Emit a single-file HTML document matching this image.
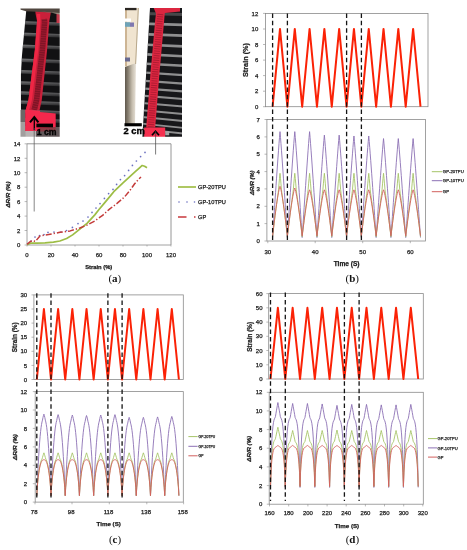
<!DOCTYPE html><html><head><meta charset="utf-8"><title>Figure</title><style>html,body{margin:0;padding:0;background:#fff}svg{display:block}</style></head><body>
<svg width="467" height="550" viewBox="0 0 467 550">
<defs><filter id="bl" color-interpolation-filters="sRGB" x="-5%" y="-5%" width="110%" height="110%"><feGaussianBlur stdDeviation="0.6"/></filter><filter id="bl2" color-interpolation-filters="sRGB"><feGaussianBlur stdDeviation="0.35"/></filter><clipPath id="c1"><rect x="20.5" y="8" width="39.2" height="128.8"/></clipPath><clipPath id="c2"><rect x="125" y="7.8" width="57" height="129"/></clipPath><linearGradient id="band" x1="0" y1="0" x2="0" y2="1"><stop offset="0" stop-color="#8e8e90" stop-opacity="0.85"/><stop offset="1" stop-color="#505052" stop-opacity="0.4"/></linearGradient><linearGradient id="pole" x1="0" y1="0" x2="1" y2="0"><stop offset="0" stop-color="#5e564b"/><stop offset="0.3" stop-color="#8a8274"/><stop offset="0.65" stop-color="#c6beaf"/><stop offset="1" stop-color="#e8e2d8"/></linearGradient><clipPath id="k1"><polygon points="26.3,10 60,10 60,138 20.9,138 20.9,75 22,55"/></clipPath><clipPath id="k2"><polygon points="150,8 183,8 183,138 142.3,138"/></clipPath></defs>
<rect width="467" height="550" fill="#fff"/>
<g clip-path="url(#c1)"><g filter="url(#bl)">
<rect x="18" y="6" width="44" height="133" fill="#fff"/>
<polygon points="26.3,10 60,10 60,138 20.9,138 20.9,75 22,55" fill="#111113"/>
<polygon points="20,21 60,22.6 60,26.1 20,24.5" fill="url(#band)" clip-path="url(#k1)"/>
<polygon points="20,32.5 60,34.1 60,37.6 20,36.0" fill="url(#band)" clip-path="url(#k1)"/>
<polygon points="20,44.5 60,46.1 60,49.6 20,48.0" fill="url(#band)" clip-path="url(#k1)"/>
<polygon points="20,58.5 60,60.1 60,63.6 20,62.0" fill="url(#band)" clip-path="url(#k1)"/>
<polygon points="20,70 60,71.6 60,75.1 20,73.5" fill="url(#band)" clip-path="url(#k1)"/>
<polygon points="20,81.2 60,82.8 60,86.3 20,84.7" fill="url(#band)" clip-path="url(#k1)"/>
<polygon points="20,91.3 60,92.89999999999999 60,96.39999999999999 20,94.8" fill="url(#band)" clip-path="url(#k1)"/>
<polygon points="20,100.5 60,102.1 60,105.6 20,104.0" fill="url(#band)" clip-path="url(#k1)"/>
<polygon points="20,109.5 60,111.1 60,114.6 20,113.0" fill="url(#band)" clip-path="url(#k1)"/>
<polygon points="20,118 60,119.6 60,123.1 20,121.5" fill="url(#band)" clip-path="url(#k1)"/>
<polygon points="20,126 60,127.6 60,131.1 20,129.5" fill="url(#band)" clip-path="url(#k1)"/>
<rect x="20" y="127" width="40" height="11" fill="#62585a"/>
<rect x="20" y="131" width="16" height="7" fill="#b9b3b3"/>
<rect x="20" y="110" width="5.5" height="12" fill="#6a6666"/><rect x="20" y="122" width="5.5" height="16" fill="#a29e9e"/>
<polygon points="35.3,11 50.9,11 50.6,14 49.3,21 47.1,50 41.8,100 39.6,110 25.7,110 28.4,100 34.8,50 37,21 35.6,14" fill="#c9203a"/>
<polyline points="38.5,14 38.8,21 36.6,50 30.2,100 27.5,110" fill="none" stroke="#ee2644" stroke-width="3.4"/>
<polyline points="44.3,19 44.6,22 42.4,50 36.6,100 34.2,110" fill="none" stroke="#6e1222" stroke-width="5.6" opacity="0.8"/>
<polyline points="44.3,19 44.6,22 42.4,50 36.6,100 34.2,110" fill="none" stroke="#d02840" stroke-width="5.6" stroke-dasharray="0.8,1.5" opacity="0.4"/>
<polygon points="25.2,109.7 40,110.5 40,112 55.7,113.4 55.7,127.3 40,128.5 40,131 25.2,131" fill="#f3284c"/>
<polygon points="40,127.8 55.7,127 55.7,131 40,131.5" fill="#8a3a44"/>
<rect x="56.5" y="9" width="4" height="14" fill="#c2384a"/>
<polygon points="20,8.4 60,8.4 60,14.6 52,12.6 26,11.2 20,9.4" fill="#50463f"/>
<polygon points="40,11.4 60,13 60,14.8 52,12.8" fill="#9a8b80"/>
</g>
<g filter="url(#bl2)">
<rect x="36.4" y="123.6" width="16.6" height="3.7" fill="#000"/>
<polyline points="30,122.4 34.3,117.2 38.4,122.4" fill="none" stroke="#000" stroke-width="2"/>
<line x1="34.3" y1="118" x2="34.3" y2="130" stroke="#000" stroke-width="1.3"/>
<text x="46.6" y="134.5" font-size="8.7" text-anchor="middle" font-weight="bold" fill="#000" font-family='"Liberation Sans", sans-serif' stroke="#000" stroke-width="0.35">1 cm</text>
</g>
</g>
<g clip-path="url(#c2)"><g filter="url(#bl)">
<rect x="123" y="6" width="61" height="133" fill="#fff"/>
<polygon points="125,8 139,8 136,64 125,68" fill="#f0e4d0"/>
<rect x="125" y="10" width="2" height="56" fill="#cdb594"/>
<polygon points="125,67 136,63 135,124 125,124" fill="url(#pole)"/>
<line x1="138.3" y1="8" x2="135.6" y2="64" stroke="#b8a88c" stroke-width="1"/>
<rect x="125" y="7.6" width="11.5" height="2.6" fill="#2a2622"/>
<rect x="125" y="22.2" width="5" height="4.6" fill="#6fa3b8"/><rect x="130" y="22.5" width="4" height="4.3" fill="#7f78b0"/>
<rect x="125" y="18.5" width="6" height="3.2" fill="#fff"/>
<rect x="125" y="57.5" width="5" height="4" fill="#6a6a90"/>
<polygon points="150,8 183,8 183,138 142.3,138" fill="#17171a"/>
<polygon points="142,12.0 183,12.9 183,15.9 142,15.0" fill="#a4a4a6" opacity="0.35" clip-path="url(#k2)"/>
<polygon points="142,22.2 183,23.4 183,26.3 142,25.1" fill="#a4a4a6" opacity="0.85" clip-path="url(#k2)"/>
<polygon points="142,32.7 183,34.2 183,37.0 142,35.5" fill="#a4a4a6" opacity="0.85" clip-path="url(#k2)"/>
<polygon points="142,43.2 183,45.0 183,47.7 142,45.8" fill="#a4a4a6" opacity="0.85" clip-path="url(#k2)"/>
<polygon points="142,52.8 183,54.9 183,57.5 142,55.4" fill="#a4a4a6" opacity="0.85" clip-path="url(#k2)"/>
<polygon points="142,62.2 183,64.6 183,67.1 142,64.7" fill="#a4a4a6" opacity="0.85" clip-path="url(#k2)"/>
<polygon points="142,71.2 183,73.9 183,76.2 142,73.6" fill="#a4a4a6" opacity="0.85" clip-path="url(#k2)"/>
<polygon points="142,79.5 183,82.4 183,84.7 142,81.8" fill="#a4a4a6" opacity="0.85" clip-path="url(#k2)"/>
<polygon points="142,87.2 183,90.3 183,92.5 142,89.4" fill="#a4a4a6" opacity="0.85" clip-path="url(#k2)"/>
<polygon points="142,94.6 183,97.9 183,100.1 142,96.7" fill="#a4a4a6" opacity="0.85" clip-path="url(#k2)"/>
<polygon points="142,101.9 183,105.4 183,107.5 142,104.0" fill="#a4a4a6" opacity="0.85" clip-path="url(#k2)"/>
<polygon points="142,109.2 183,113.0 183,114.9 142,111.2" fill="#a4a4a6" opacity="0.85" clip-path="url(#k2)"/>
<polygon points="142,116.0 183,120.0 183,121.9 142,117.9" fill="#a4a4a6" opacity="0.85" clip-path="url(#k2)"/>
<polygon points="142,122.7 183,126.9 183,128.7 142,124.6" fill="#a4a4a6" opacity="0.85" clip-path="url(#k2)"/>
<polygon points="142,128.3 183,132.6 183,134.4 142,130.1" fill="#a4a4a6" opacity="0.85" clip-path="url(#k2)"/>
<polygon points="153.7,8 180,8 180,11.5 164.8,13 164.2,20 160.5,62 159.7,70 155.2,127.5 146.2,127.5 150.7,70 151.5,62 155.2,20 156,13.5" fill="#dc2640"/>
<polyline points="160.3,14 155.3,70 150.8,127" fill="none" stroke="#6a0c1c" stroke-width="6" stroke-dasharray="0.9,1.4" opacity="0.42"/>
<rect x="144.2" y="127.5" width="21" height="11" fill="#f5304f"/>
<rect x="165.2" y="131.3" width="4" height="4" fill="#a5a5a5"/>
</g></g>
<g><g filter="url(#bl2)">
<rect x="124.5" y="123.2" width="17.3" height="3.1" fill="#000"/>
<text x="134.2" y="133.9" font-size="9.3" text-anchor="middle" font-weight="bold" fill="#000" font-family='"Liberation Sans", sans-serif' stroke="#000" stroke-width="0.35">2 cm</text>
<polyline points="152,135.3 155.5,131.3 159,135.3" fill="none" stroke="#000" stroke-width="1.7"/>
</g>
</g>
<polyline points="27,143.8 171,143.8 171,245" fill="none" stroke="#8a8a8a" stroke-width="0.9"/>
<polyline points="27,143.8 27,245 171,245" fill="none" stroke="#8a8a8a" stroke-width="0.8"/>
<text x="20.4" y="247.2" font-size="6" text-anchor="end" font-weight="normal" fill="#1a1a1a" font-family='"Liberation Sans", sans-serif' stroke="#1a1a1a" stroke-width="0.25">0</text>
<line x1="24.6" y1="245.0" x2="27" y2="245.0" stroke="#8a8a8a" stroke-width="0.6"/>
<text x="20.4" y="232.7" font-size="6" text-anchor="end" font-weight="normal" fill="#1a1a1a" font-family='"Liberation Sans", sans-serif' stroke="#1a1a1a" stroke-width="0.25">2</text>
<line x1="24.6" y1="230.5" x2="27" y2="230.5" stroke="#8a8a8a" stroke-width="0.6"/>
<text x="20.4" y="218.3" font-size="6" text-anchor="end" font-weight="normal" fill="#1a1a1a" font-family='"Liberation Sans", sans-serif' stroke="#1a1a1a" stroke-width="0.25">4</text>
<line x1="24.6" y1="216.1" x2="27" y2="216.1" stroke="#8a8a8a" stroke-width="0.6"/>
<text x="20.4" y="203.8" font-size="6" text-anchor="end" font-weight="normal" fill="#1a1a1a" font-family='"Liberation Sans", sans-serif' stroke="#1a1a1a" stroke-width="0.25">6</text>
<line x1="24.6" y1="201.6" x2="27" y2="201.6" stroke="#8a8a8a" stroke-width="0.6"/>
<text x="20.4" y="189.4" font-size="6" text-anchor="end" font-weight="normal" fill="#1a1a1a" font-family='"Liberation Sans", sans-serif' stroke="#1a1a1a" stroke-width="0.25">8</text>
<line x1="24.6" y1="187.2" x2="27" y2="187.2" stroke="#8a8a8a" stroke-width="0.6"/>
<text x="20.4" y="174.9" font-size="6" text-anchor="end" font-weight="normal" fill="#1a1a1a" font-family='"Liberation Sans", sans-serif' stroke="#1a1a1a" stroke-width="0.25">10</text>
<line x1="24.6" y1="172.7" x2="27" y2="172.7" stroke="#8a8a8a" stroke-width="0.6"/>
<text x="20.4" y="160.5" font-size="6" text-anchor="end" font-weight="normal" fill="#1a1a1a" font-family='"Liberation Sans", sans-serif' stroke="#1a1a1a" stroke-width="0.25">12</text>
<line x1="24.6" y1="158.3" x2="27" y2="158.3" stroke="#8a8a8a" stroke-width="0.6"/>
<text x="20.4" y="146.0" font-size="6" text-anchor="end" font-weight="normal" fill="#1a1a1a" font-family='"Liberation Sans", sans-serif' stroke="#1a1a1a" stroke-width="0.25">14</text>
<line x1="24.6" y1="143.8" x2="27" y2="143.8" stroke="#8a8a8a" stroke-width="0.6"/>
<text x="27.0" y="257.1" font-size="6" text-anchor="middle" font-weight="normal" fill="#1a1a1a" font-family='"Liberation Sans", sans-serif' stroke="#1a1a1a" stroke-width="0.25">0</text>
<line x1="27.0" y1="245" x2="27.0" y2="246.5" stroke="#8a8a8a" stroke-width="0.6"/>
<text x="51.0" y="257.1" font-size="6" text-anchor="middle" font-weight="normal" fill="#1a1a1a" font-family='"Liberation Sans", sans-serif' stroke="#1a1a1a" stroke-width="0.25">20</text>
<line x1="51.0" y1="245" x2="51.0" y2="246.5" stroke="#8a8a8a" stroke-width="0.6"/>
<text x="75.0" y="257.1" font-size="6" text-anchor="middle" font-weight="normal" fill="#1a1a1a" font-family='"Liberation Sans", sans-serif' stroke="#1a1a1a" stroke-width="0.25">40</text>
<line x1="75.0" y1="245" x2="75.0" y2="246.5" stroke="#8a8a8a" stroke-width="0.6"/>
<text x="99.0" y="257.1" font-size="6" text-anchor="middle" font-weight="normal" fill="#1a1a1a" font-family='"Liberation Sans", sans-serif' stroke="#1a1a1a" stroke-width="0.25">60</text>
<line x1="99.0" y1="245" x2="99.0" y2="246.5" stroke="#8a8a8a" stroke-width="0.6"/>
<text x="123.0" y="257.1" font-size="6" text-anchor="middle" font-weight="normal" fill="#1a1a1a" font-family='"Liberation Sans", sans-serif' stroke="#1a1a1a" stroke-width="0.25">80</text>
<line x1="123.0" y1="245" x2="123.0" y2="246.5" stroke="#8a8a8a" stroke-width="0.6"/>
<text x="147.0" y="257.1" font-size="6" text-anchor="middle" font-weight="normal" fill="#1a1a1a" font-family='"Liberation Sans", sans-serif' stroke="#1a1a1a" stroke-width="0.25">100</text>
<line x1="147.0" y1="245" x2="147.0" y2="246.5" stroke="#8a8a8a" stroke-width="0.6"/>
<text x="171.0" y="257.1" font-size="6" text-anchor="middle" font-weight="normal" fill="#1a1a1a" font-family='"Liberation Sans", sans-serif' stroke="#1a1a1a" stroke-width="0.25">120</text>
<line x1="171.0" y1="245" x2="171.0" y2="246.5" stroke="#8a8a8a" stroke-width="0.6"/>
<text x="98.7" y="268.6" font-size="5.8" text-anchor="middle" font-weight="bold" fill="#1a1a1a" font-family='"Liberation Sans", sans-serif' stroke="#1a1a1a" stroke-width="0.25">Strain (%)</text>
<text transform="translate(9.9,194.5) rotate(-90)" font-size="6.2" text-anchor="middle" font-weight="bold" fill="#222" font-family='"Liberation Sans", sans-serif' stroke="#222" stroke-width="0.25" font-style="italic">&#916;R/R (%)</text>
<line x1="34.2" y1="128" x2="34.2" y2="211.5" stroke="#555" stroke-width="0.7"/>
<line x1="155.6" y1="131" x2="155.6" y2="154.5" stroke="#444" stroke-width="0.7"/>
<polyline points="27.00,244.64 30.60,243.19 36.60,243.19 45.00,242.83 53.40,242.11 59.88,241.02 66.60,238.49 72.60,234.88 79.80,229.10 87.00,223.31 94.80,214.86 99.00,209.58 105.00,202.35 111.00,195.12 114.60,190.79 123.00,182.83 129.00,177.41 135.00,171.99 139.80,167.65 142.20,165.49 144.60,166.21 147.00,167.65" fill="none" stroke="#9dbd45" stroke-width="1.7" stroke-linejoin="round" />
<circle cx="28.0" cy="243.5" r="0.85" fill="#6a6fc0"/>
<circle cx="31.0" cy="241.0" r="0.85" fill="#6a6fc0"/>
<circle cx="35.0" cy="237.0" r="0.85" fill="#6a6fc0"/>
<circle cx="39.5" cy="235.5" r="0.85" fill="#6a6fc0"/>
<circle cx="44.0" cy="234.5" r="0.85" fill="#6a6fc0"/>
<circle cx="48.0" cy="232.4" r="0.85" fill="#6a6fc0"/>
<circle cx="54.0" cy="232.0" r="0.85" fill="#6a6fc0"/>
<circle cx="61.0" cy="232.0" r="0.85" fill="#6a6fc0"/>
<circle cx="66.5" cy="230.5" r="0.85" fill="#6a6fc0"/>
<circle cx="72.4" cy="227.4" r="0.85" fill="#6a6fc0"/>
<circle cx="78.0" cy="223.6" r="0.85" fill="#6a6fc0"/>
<circle cx="83.0" cy="221.0" r="0.85" fill="#6a6fc0"/>
<circle cx="88.0" cy="217.0" r="0.85" fill="#6a6fc0"/>
<circle cx="92.0" cy="212.4" r="0.85" fill="#6a6fc0"/>
<circle cx="96.0" cy="208.0" r="0.85" fill="#6a6fc0"/>
<circle cx="100.0" cy="203.6" r="0.85" fill="#6a6fc0"/>
<circle cx="104.4" cy="198.4" r="0.85" fill="#6a6fc0"/>
<circle cx="108.6" cy="193.6" r="0.85" fill="#6a6fc0"/>
<circle cx="113.0" cy="189.4" r="0.85" fill="#6a6fc0"/>
<circle cx="116.6" cy="184.4" r="0.85" fill="#6a6fc0"/>
<circle cx="120.4" cy="179.6" r="0.85" fill="#6a6fc0"/>
<circle cx="124.6" cy="175.6" r="0.85" fill="#6a6fc0"/>
<circle cx="128.6" cy="170.4" r="0.85" fill="#6a6fc0"/>
<circle cx="132.4" cy="165.4" r="0.85" fill="#6a6fc0"/>
<circle cx="136.4" cy="161.0" r="0.85" fill="#6a6fc0"/>
<circle cx="140.6" cy="156.6" r="0.85" fill="#6a6fc0"/>
<circle cx="145.0" cy="152.4" r="0.85" fill="#6a6fc0"/>
<polyline points="27.00,244.28 30.60,241.39 33.00,240.66 35.40,241.39 39.96,235.96 48.60,234.52 59.88,232.35 70.20,230.90 79.80,227.94 87.00,225.12 94.80,220.93 102.60,215.36 109.80,208.86 117.00,203.44 124.68,196.79 130.20,190.06 134.64,183.77 138.60,179.22 141.00,177.05" fill="none" stroke="#c43b3a" stroke-width="1.5" stroke-linejoin="round" stroke-dasharray="6,2,1.3,2"/>
<line x1="178" y1="187" x2="196" y2="187" stroke="#9bbb3c" stroke-width="1.6"/>
<text x="198.0" y="189.3" font-size="5.7" text-anchor="start" font-weight="normal" fill="#222" font-family='"Liberation Sans", sans-serif' stroke="#1a1a1a" stroke-width="0.25">GP-20TPU</text>
<circle cx="179" cy="202" r="0.8" fill="#6a6fc0"/>
<circle cx="187" cy="202" r="0.8" fill="#6a6fc0"/>
<circle cx="194.5" cy="202" r="0.8" fill="#6a6fc0"/>
<text x="198.0" y="204.3" font-size="5.7" text-anchor="start" font-weight="normal" fill="#222" font-family='"Liberation Sans", sans-serif' stroke="#1a1a1a" stroke-width="0.25">GP-10TPU</text>
<line x1="178" y1="217" x2="196" y2="217" stroke="#c8383c" stroke-width="1.4" stroke-dasharray="8.5,7.5,1.5,3"/>
<text x="198.0" y="219.3" font-size="5.7" text-anchor="start" font-weight="normal" fill="#222" font-family='"Liberation Sans", sans-serif' stroke="#1a1a1a" stroke-width="0.25">GP</text>
<text x="114.8" y="282.4" font-size="11" text-anchor="middle" fill="#111" font-family='"Liberation Serif", serif'>(<tspan font-weight="bold">a</tspan>)</text>
<text x="352.2" y="282.4" font-size="11" text-anchor="middle" fill="#111" font-family='"Liberation Serif", serif'>(<tspan font-weight="bold">b</tspan>)</text>
<text x="115" y="543" font-size="11" text-anchor="middle" fill="#111" font-family='"Liberation Serif", serif'>(<tspan font-weight="bold">c</tspan>)</text>
<text x="352.4" y="542.7" font-size="11" text-anchor="middle" fill="#111" font-family='"Liberation Serif", serif'>(<tspan font-weight="bold">d</tspan>)</text>
<rect x="265.4" y="13.4" width="162.6" height="93.3" fill="#fff" stroke="#8a8a8a" stroke-width="0.8"/>
<polyline points="272.60,106.70 280.00,28.95 287.39,106.70 294.79,28.95 302.18,106.70 309.58,28.95 316.97,106.70 324.37,28.95 331.76,106.70 339.16,28.95 346.55,106.70 353.95,28.95 361.34,106.70 368.74,28.95 376.13,106.70 383.53,28.95 390.92,106.70 398.31,28.95 405.71,106.70 413.11,28.95 420.50,106.70" fill="none" stroke="#fb2206" stroke-width="2.0" stroke-linejoin="round" stroke-linejoin="miter"/>
<text x="258.3" y="108.8" font-size="6" text-anchor="end" font-weight="normal" fill="#1a1a1a" font-family='"Liberation Sans", sans-serif' stroke="#1a1a1a" stroke-width="0.25">0</text>
<line x1="263.0" y1="106.7" x2="265.4" y2="106.7" stroke="#8a8a8a" stroke-width="0.6"/>
<text x="258.3" y="93.2" font-size="6" text-anchor="end" font-weight="normal" fill="#1a1a1a" font-family='"Liberation Sans", sans-serif' stroke="#1a1a1a" stroke-width="0.25">2</text>
<line x1="263.0" y1="91.2" x2="265.4" y2="91.2" stroke="#8a8a8a" stroke-width="0.6"/>
<text x="258.3" y="77.7" font-size="6" text-anchor="end" font-weight="normal" fill="#1a1a1a" font-family='"Liberation Sans", sans-serif' stroke="#1a1a1a" stroke-width="0.25">4</text>
<line x1="263.0" y1="75.6" x2="265.4" y2="75.6" stroke="#8a8a8a" stroke-width="0.6"/>
<text x="258.3" y="62.2" font-size="6" text-anchor="end" font-weight="normal" fill="#1a1a1a" font-family='"Liberation Sans", sans-serif' stroke="#1a1a1a" stroke-width="0.25">6</text>
<line x1="263.0" y1="60.1" x2="265.4" y2="60.1" stroke="#8a8a8a" stroke-width="0.6"/>
<text x="258.3" y="46.6" font-size="6" text-anchor="end" font-weight="normal" fill="#1a1a1a" font-family='"Liberation Sans", sans-serif' stroke="#1a1a1a" stroke-width="0.25">8</text>
<line x1="263.0" y1="44.5" x2="265.4" y2="44.5" stroke="#8a8a8a" stroke-width="0.6"/>
<text x="258.3" y="31.1" font-size="6" text-anchor="end" font-weight="normal" fill="#1a1a1a" font-family='"Liberation Sans", sans-serif' stroke="#1a1a1a" stroke-width="0.25">10</text>
<line x1="263.0" y1="29.0" x2="265.4" y2="29.0" stroke="#8a8a8a" stroke-width="0.6"/>
<text x="258.3" y="15.5" font-size="6" text-anchor="end" font-weight="normal" fill="#1a1a1a" font-family='"Liberation Sans", sans-serif' stroke="#1a1a1a" stroke-width="0.25">12</text>
<line x1="263.0" y1="13.4" x2="265.4" y2="13.4" stroke="#8a8a8a" stroke-width="0.6"/>
<text transform="translate(248.2,60.0) rotate(-90)" font-size="7.3" text-anchor="middle" font-weight="bold" fill="#222" font-family='"Liberation Sans", sans-serif' stroke="#222" stroke-width="0.25" >Strain (%)</text>
<rect x="266.9" y="119.5" width="158.5" height="121.5" fill="#fff" stroke="#8a8a8a" stroke-width="0.8"/>
<polyline points="272.60,237.53 273.09,229.93 273.59,222.37 274.08,214.85 274.57,207.39 275.06,199.98 275.56,192.63 276.05,185.35 276.54,178.14 277.04,171.01 277.53,163.97 278.02,157.05 278.52,150.27 279.01,143.67 279.50,137.33 280.00,131.65 280.49,137.33 280.98,143.67 281.47,150.27 281.97,157.05 282.46,163.97 282.95,171.01 283.45,178.14 283.94,185.35 284.43,192.63 284.93,199.98 285.42,207.39 285.91,214.85 286.40,222.37 286.90,229.93 287.39,237.53 287.88,229.93 288.38,222.37 288.87,214.85 289.36,207.39 289.86,199.98 290.35,192.63 290.84,185.35 291.33,178.14 291.83,171.01 292.32,163.97 292.81,157.05 293.31,150.27 293.80,143.67 294.29,137.33 294.79,131.65 295.28,137.33 295.77,143.67 296.26,150.27 296.76,157.05 297.25,163.97 297.74,171.01 298.24,178.14 298.73,185.35 299.22,192.63 299.72,199.98 300.21,207.39 300.70,214.85 301.19,222.37 301.69,229.93 302.18,237.53 302.67,229.93 303.17,222.37 303.66,214.85 304.15,207.39 304.65,199.98 305.14,192.63 305.63,185.35 306.12,178.14 306.62,171.01 307.11,163.97 307.60,157.05 308.10,150.27 308.59,143.67 309.08,137.33 309.58,131.65 310.07,137.33 310.56,143.67 311.05,150.27 311.55,157.05 312.04,163.97 312.53,171.01 313.03,178.14 313.52,185.35 314.01,192.63 314.50,199.98 315.00,207.39 315.49,214.85 315.98,222.37 316.48,229.93 316.97,237.53 317.46,230.18 317.96,222.86 318.45,215.60 318.94,208.38 319.44,201.21 319.93,194.11 320.42,187.06 320.91,180.08 321.41,173.19 321.90,166.39 322.39,159.69 322.89,153.13 323.38,146.74 323.87,140.62 324.37,135.12 324.86,140.62 325.35,146.74 325.84,153.13 326.34,159.69 326.83,166.39 327.32,173.19 327.82,180.08 328.31,187.06 328.80,194.11 329.30,201.21 329.79,208.38 330.28,215.60 330.77,222.86 331.27,230.18 331.76,237.53 332.25,230.18 332.75,222.86 333.24,215.60 333.73,208.38 334.23,201.21 334.72,194.11 335.21,187.06 335.70,180.08 336.20,173.19 336.69,166.39 337.18,159.69 337.68,153.13 338.17,146.74 338.66,140.62 339.16,135.12 339.65,140.62 340.14,146.74 340.63,153.13 341.13,159.69 341.62,166.39 342.11,173.19 342.61,180.08 343.10,187.06 343.59,194.11 344.09,201.21 344.58,208.38 345.07,215.60 345.56,222.86 346.06,230.18 346.55,237.53 347.04,230.24 347.54,222.99 348.03,215.78 348.52,208.63 349.02,201.52 349.51,194.47 350.00,187.49 350.49,180.57 350.99,173.73 351.48,166.99 351.97,160.35 352.47,153.84 352.96,147.51 353.45,141.44 353.95,135.99 354.44,141.44 354.93,147.51 355.42,153.84 355.92,160.35 356.41,166.99 356.90,173.73 357.40,180.57 357.89,187.49 358.38,194.47 358.88,201.52 359.37,208.63 359.86,215.78 360.35,222.99 360.85,230.24 361.34,237.53 361.83,230.24 362.33,222.99 362.82,215.78 363.31,208.63 363.81,201.52 364.30,194.47 364.79,187.49 365.28,180.57 365.78,173.73 366.27,166.99 366.76,160.35 367.26,153.84 367.75,147.51 368.24,141.44 368.74,135.99 369.23,141.44 369.72,147.51 370.21,153.84 370.71,160.35 371.20,166.99 371.69,173.73 372.19,180.57 372.68,187.49 373.17,194.47 373.67,201.52 374.16,208.63 374.65,215.78 375.14,222.99 375.64,230.24 376.13,237.53 376.62,230.42 377.12,223.36 377.61,216.34 378.10,209.37 378.60,202.44 379.09,195.58 379.58,188.77 380.07,182.03 380.57,175.37 381.06,168.80 381.55,162.33 382.05,155.99 382.54,149.82 383.03,143.90 383.53,138.59 384.02,143.90 384.51,149.82 385.00,155.99 385.50,162.33 385.99,168.80 386.48,175.37 386.98,182.03 387.47,188.77 387.96,195.58 388.46,202.44 388.95,209.37 389.44,216.34 389.93,223.36 390.43,230.42 390.92,237.53 391.41,230.42 391.91,223.36 392.40,216.34 392.89,209.37 393.38,202.44 393.88,195.58 394.37,188.77 394.86,182.03 395.36,175.37 395.85,168.80 396.34,162.33 396.84,155.99 397.33,149.82 397.82,143.90 398.31,138.59 398.81,143.90 399.30,149.82 399.79,155.99 400.29,162.33 400.78,168.80 401.27,175.37 401.77,182.03 402.26,188.77 402.75,195.58 403.25,202.44 403.74,209.37 404.23,216.34 404.72,223.36 405.22,230.42 405.71,237.53 406.20,230.42 406.70,223.36 407.19,216.34 407.68,209.37 408.18,202.44 408.67,195.58 409.16,188.77 409.65,182.03 410.15,175.37 410.64,168.80 411.13,162.33 411.63,155.99 412.12,149.82 412.61,143.90 413.11,138.59 413.60,143.90 414.09,149.82 414.58,155.99 415.08,162.33 415.57,168.80 416.06,175.37 416.56,182.03 417.05,188.77 417.54,195.58 418.04,202.44 418.53,209.37 419.02,216.34 419.51,223.36 420.01,230.42 420.50,237.53" fill="none" stroke="#8c70b4" stroke-width="0.9" stroke-linejoin="round" />
<polyline points="272.60,236.66 273.09,232.38 273.59,228.16 274.08,224.01 274.57,219.93 275.06,215.91 275.56,211.98 276.05,208.14 276.54,204.39 277.04,200.74 277.53,197.22 278.02,193.83 278.52,189.75 279.01,183.87 279.50,178.28 280.00,173.31 280.49,178.28 280.98,183.87 281.47,189.75 281.97,193.83 282.46,197.22 282.95,200.74 283.45,204.39 283.94,208.14 284.43,211.98 284.93,215.91 285.42,219.93 285.91,224.01 286.40,228.16 286.90,232.38 287.39,236.66 287.88,232.38 288.38,228.16 288.87,224.01 289.36,219.93 289.86,215.91 290.35,211.98 290.84,208.14 291.33,204.39 291.83,200.74 292.32,197.22 292.81,193.83 293.31,189.75 293.80,183.87 294.29,178.28 294.79,173.31 295.28,178.28 295.77,183.87 296.26,189.75 296.76,193.83 297.25,197.22 297.74,200.74 298.24,204.39 298.73,208.14 299.22,211.98 299.72,215.91 300.21,219.93 300.70,224.01 301.19,228.16 301.69,232.38 302.18,236.66 302.67,232.38 303.17,228.16 303.66,224.01 304.15,219.93 304.65,215.91 305.14,211.98 305.63,208.14 306.12,204.39 306.62,200.74 307.11,197.22 307.60,193.83 308.10,189.75 308.59,183.87 309.08,178.28 309.58,173.31 310.07,178.28 310.56,183.87 311.05,189.75 311.55,193.83 312.04,197.22 312.53,200.74 313.03,204.39 313.52,208.14 314.01,211.98 314.50,215.91 315.00,219.93 315.49,224.01 315.98,228.16 316.48,232.38 316.97,236.66 317.46,232.38 317.96,228.16 318.45,224.01 318.94,219.93 319.44,215.91 319.93,211.98 320.42,208.14 320.91,204.39 321.41,200.74 321.90,197.22 322.39,193.83 322.89,189.75 323.38,183.87 323.87,178.28 324.37,173.31 324.86,178.28 325.35,183.87 325.84,189.75 326.34,193.83 326.83,197.22 327.32,200.74 327.82,204.39 328.31,208.14 328.80,211.98 329.30,215.91 329.79,219.93 330.28,224.01 330.77,228.16 331.27,232.38 331.76,236.66 332.25,232.38 332.75,228.16 333.24,224.01 333.73,219.93 334.23,215.91 334.72,211.98 335.21,208.14 335.70,204.39 336.20,200.74 336.69,197.22 337.18,193.83 337.68,189.75 338.17,183.87 338.66,178.28 339.16,173.31 339.65,178.28 340.14,183.87 340.63,189.75 341.13,193.83 341.62,197.22 342.11,200.74 342.61,204.39 343.10,208.14 343.59,211.98 344.09,215.91 344.58,219.93 345.07,224.01 345.56,228.16 346.06,232.38 346.55,236.66 347.04,232.38 347.54,228.16 348.03,224.01 348.52,219.93 349.02,215.91 349.51,211.98 350.00,208.14 350.49,204.39 350.99,200.74 351.48,197.22 351.97,193.83 352.47,189.75 352.96,183.87 353.45,178.28 353.95,173.31 354.44,178.28 354.93,183.87 355.42,189.75 355.92,193.83 356.41,197.22 356.90,200.74 357.40,204.39 357.89,208.14 358.38,211.98 358.88,215.91 359.37,219.93 359.86,224.01 360.35,228.16 360.85,232.38 361.34,236.66 361.83,232.38 362.33,228.16 362.82,224.01 363.31,219.93 363.81,215.91 364.30,211.98 364.79,208.14 365.28,204.39 365.78,200.74 366.27,197.22 366.76,193.83 367.26,189.75 367.75,183.87 368.24,178.28 368.74,173.31 369.23,178.28 369.72,183.87 370.21,189.75 370.71,193.83 371.20,197.22 371.69,200.74 372.19,204.39 372.68,208.14 373.17,211.98 373.67,215.91 374.16,219.93 374.65,224.01 375.14,228.16 375.64,232.38 376.13,236.66 376.62,232.38 377.12,228.16 377.61,224.01 378.10,219.93 378.60,215.91 379.09,211.98 379.58,208.14 380.07,204.39 380.57,200.74 381.06,197.22 381.55,193.83 382.05,189.75 382.54,183.87 383.03,178.28 383.53,173.31 384.02,178.28 384.51,183.87 385.00,189.75 385.50,193.83 385.99,197.22 386.48,200.74 386.98,204.39 387.47,208.14 387.96,211.98 388.46,215.91 388.95,219.93 389.44,224.01 389.93,228.16 390.43,232.38 390.92,236.66 391.41,232.38 391.91,228.16 392.40,224.01 392.89,219.93 393.38,215.91 393.88,211.98 394.37,208.14 394.86,204.39 395.36,200.74 395.85,197.22 396.34,193.83 396.84,189.75 397.33,183.87 397.82,178.28 398.31,173.31 398.81,178.28 399.30,183.87 399.79,189.75 400.29,193.83 400.78,197.22 401.27,200.74 401.77,204.39 402.26,208.14 402.75,211.98 403.25,215.91 403.74,219.93 404.23,224.01 404.72,228.16 405.22,232.38 405.71,236.66 406.20,232.38 406.70,228.16 407.19,224.01 407.68,219.93 408.18,215.91 408.67,211.98 409.16,208.14 409.65,204.39 410.15,200.74 410.64,197.22 411.13,193.83 411.63,189.75 412.12,183.87 412.61,178.28 413.11,173.31 413.60,178.28 414.09,183.87 414.58,189.75 415.08,193.83 415.57,197.22 416.06,200.74 416.56,204.39 417.05,208.14 417.54,211.98 418.04,215.91 418.53,219.93 419.02,224.01 419.51,228.16 420.01,232.38 420.50,236.66" fill="none" stroke="#a6c468" stroke-width="0.9" stroke-linejoin="round" />
<polyline points="272.60,235.79 273.09,231.55 273.59,227.40 274.08,223.34 274.57,219.38 275.06,215.53 275.56,211.79 276.05,208.17 276.54,204.69 277.04,201.36 277.53,198.18 278.02,195.20 278.52,192.43 279.01,189.93 279.50,187.79 280.00,186.32 280.49,187.79 280.98,189.93 281.47,192.43 281.97,195.20 282.46,198.18 282.95,201.36 283.45,204.69 283.94,208.17 284.43,211.79 284.93,215.53 285.42,219.38 285.91,223.34 286.40,227.40 286.90,231.55 287.39,235.79 287.88,231.70 288.38,227.69 288.87,223.77 289.36,219.95 289.86,216.24 290.35,212.63 290.84,209.14 291.33,205.78 291.83,202.56 292.32,199.50 292.81,196.62 293.31,193.95 293.80,191.54 294.29,189.47 294.79,188.06 295.28,189.47 295.77,191.54 296.26,193.95 296.76,196.62 297.25,199.50 297.74,202.56 298.24,205.78 298.73,209.14 299.22,212.63 299.72,216.24 300.21,219.95 300.70,223.77 301.19,227.69 301.69,231.70 302.18,235.79 302.67,231.85 303.17,227.98 303.66,224.21 304.15,220.53 304.65,216.95 305.14,213.47 305.63,210.11 306.12,206.87 306.62,203.77 307.11,200.82 307.60,198.05 308.10,195.47 308.59,193.15 309.08,191.16 309.58,189.80 310.07,191.16 310.56,193.15 311.05,195.47 311.55,198.05 312.04,200.82 312.53,203.77 313.03,206.87 313.52,210.11 314.01,213.47 314.50,216.95 315.00,220.53 315.49,224.21 315.98,227.98 316.48,231.85 316.97,235.79 317.46,231.85 317.96,227.98 318.45,224.21 318.94,220.53 319.44,216.95 319.93,213.47 320.42,210.11 320.91,206.87 321.41,203.77 321.90,200.82 322.39,198.05 322.89,195.47 323.38,193.15 323.87,191.16 324.37,189.80 324.86,191.16 325.35,193.15 325.84,195.47 326.34,198.05 326.83,200.82 327.32,203.77 327.82,206.87 328.31,210.11 328.80,213.47 329.30,216.95 329.79,220.53 330.28,224.21 330.77,227.98 331.27,231.85 331.76,235.79 332.25,231.85 332.75,227.98 333.24,224.21 333.73,220.53 334.23,216.95 334.72,213.47 335.21,210.11 335.70,206.87 336.20,203.77 336.69,200.82 337.18,198.05 337.68,195.47 338.17,193.15 338.66,191.16 339.16,189.80 339.65,191.16 340.14,193.15 340.63,195.47 341.13,198.05 341.62,200.82 342.11,203.77 342.61,206.87 343.10,210.11 343.59,213.47 344.09,216.95 344.58,220.53 345.07,224.21 345.56,227.98 346.06,231.85 346.55,235.79 347.04,231.85 347.54,227.98 348.03,224.21 348.52,220.53 349.02,216.95 349.51,213.47 350.00,210.11 350.49,206.87 350.99,203.77 351.48,200.82 351.97,198.05 352.47,195.47 352.96,193.15 353.45,191.16 353.95,189.80 354.44,191.16 354.93,193.15 355.42,195.47 355.92,198.05 356.41,200.82 356.90,203.77 357.40,206.87 357.89,210.11 358.38,213.47 358.88,216.95 359.37,220.53 359.86,224.21 360.35,227.98 360.85,231.85 361.34,235.79 361.83,231.85 362.33,227.98 362.82,224.21 363.31,220.53 363.81,216.95 364.30,213.47 364.79,210.11 365.28,206.87 365.78,203.77 366.27,200.82 366.76,198.05 367.26,195.47 367.75,193.15 368.24,191.16 368.74,189.80 369.23,191.16 369.72,193.15 370.21,195.47 370.71,198.05 371.20,200.82 371.69,203.77 372.19,206.87 372.68,210.11 373.17,213.47 373.67,216.95 374.16,220.53 374.65,224.21 375.14,227.98 375.64,231.85 376.13,235.79 376.62,231.85 377.12,227.98 377.61,224.21 378.10,220.53 378.60,216.95 379.09,213.47 379.58,210.11 380.07,206.87 380.57,203.77 381.06,200.82 381.55,198.05 382.05,195.47 382.54,193.15 383.03,191.16 383.53,189.80 384.02,191.16 384.51,193.15 385.00,195.47 385.50,198.05 385.99,200.82 386.48,203.77 386.98,206.87 387.47,210.11 387.96,213.47 388.46,216.95 388.95,220.53 389.44,224.21 389.93,227.98 390.43,231.85 390.92,235.79 391.41,231.85 391.91,227.98 392.40,224.21 392.89,220.53 393.38,216.95 393.88,213.47 394.37,210.11 394.86,206.87 395.36,203.77 395.85,200.82 396.34,198.05 396.84,195.47 397.33,193.15 397.82,191.16 398.31,189.80 398.81,191.16 399.30,193.15 399.79,195.47 400.29,198.05 400.78,200.82 401.27,203.77 401.77,206.87 402.26,210.11 402.75,213.47 403.25,216.95 403.74,220.53 404.23,224.21 404.72,227.98 405.22,231.85 405.71,235.79 406.20,231.85 406.70,227.98 407.19,224.21 407.68,220.53 408.18,216.95 408.67,213.47 409.16,210.11 409.65,206.87 410.15,203.77 410.64,200.82 411.13,198.05 411.63,195.47 412.12,193.15 412.61,191.16 413.11,189.80 413.60,191.16 414.09,193.15 414.58,195.47 415.08,198.05 415.57,200.82 416.06,203.77 416.56,206.87 417.05,210.11 417.54,213.47 418.04,216.95 418.53,220.53 419.02,224.21 419.51,227.98 420.01,231.85 420.50,235.79" fill="none" stroke="#d2605e" stroke-width="0.9" stroke-linejoin="round" />
<text x="259.9" y="243.1" font-size="6" text-anchor="end" font-weight="normal" fill="#1a1a1a" font-family='"Liberation Sans", sans-serif' stroke="#1a1a1a" stroke-width="0.25">0</text>
<line x1="264.5" y1="241.0" x2="266.9" y2="241.0" stroke="#8a8a8a" stroke-width="0.6"/>
<text x="259.9" y="225.7" font-size="6" text-anchor="end" font-weight="normal" fill="#1a1a1a" font-family='"Liberation Sans", sans-serif' stroke="#1a1a1a" stroke-width="0.25">1</text>
<line x1="264.5" y1="223.6" x2="266.9" y2="223.6" stroke="#8a8a8a" stroke-width="0.6"/>
<text x="259.9" y="208.4" font-size="6" text-anchor="end" font-weight="normal" fill="#1a1a1a" font-family='"Liberation Sans", sans-serif' stroke="#1a1a1a" stroke-width="0.25">2</text>
<line x1="264.5" y1="206.3" x2="266.9" y2="206.3" stroke="#8a8a8a" stroke-width="0.6"/>
<text x="259.9" y="191.0" font-size="6" text-anchor="end" font-weight="normal" fill="#1a1a1a" font-family='"Liberation Sans", sans-serif' stroke="#1a1a1a" stroke-width="0.25">3</text>
<line x1="264.5" y1="188.9" x2="266.9" y2="188.9" stroke="#8a8a8a" stroke-width="0.6"/>
<text x="259.9" y="173.7" font-size="6" text-anchor="end" font-weight="normal" fill="#1a1a1a" font-family='"Liberation Sans", sans-serif' stroke="#1a1a1a" stroke-width="0.25">4</text>
<line x1="264.5" y1="171.6" x2="266.9" y2="171.6" stroke="#8a8a8a" stroke-width="0.6"/>
<text x="259.9" y="156.3" font-size="6" text-anchor="end" font-weight="normal" fill="#1a1a1a" font-family='"Liberation Sans", sans-serif' stroke="#1a1a1a" stroke-width="0.25">5</text>
<line x1="264.5" y1="154.2" x2="266.9" y2="154.2" stroke="#8a8a8a" stroke-width="0.6"/>
<text x="259.9" y="139.0" font-size="6" text-anchor="end" font-weight="normal" fill="#1a1a1a" font-family='"Liberation Sans", sans-serif' stroke="#1a1a1a" stroke-width="0.25">6</text>
<line x1="264.5" y1="136.9" x2="266.9" y2="136.9" stroke="#8a8a8a" stroke-width="0.6"/>
<text x="259.9" y="121.6" font-size="6" text-anchor="end" font-weight="normal" fill="#1a1a1a" font-family='"Liberation Sans", sans-serif' stroke="#1a1a1a" stroke-width="0.25">7</text>
<line x1="264.5" y1="119.5" x2="266.9" y2="119.5" stroke="#8a8a8a" stroke-width="0.6"/>
<text transform="translate(254.2,182.7) rotate(-90)" font-size="5.8" text-anchor="middle" font-weight="bold" fill="#222" font-family='"Liberation Sans", sans-serif' stroke="#222" stroke-width="0.25" font-style="italic">&#916;R/R (%)</text>
<text x="267.8" y="254.1" font-size="6" text-anchor="middle" font-weight="normal" fill="#1a1a1a" font-family='"Liberation Sans", sans-serif' stroke="#1a1a1a" stroke-width="0.25">30</text>
<line x1="267.8" y1="241" x2="267.8" y2="243.2" stroke="#8a8a8a" stroke-width="0.6"/>
<text x="315.2" y="254.1" font-size="6" text-anchor="middle" font-weight="normal" fill="#1a1a1a" font-family='"Liberation Sans", sans-serif' stroke="#1a1a1a" stroke-width="0.25">40</text>
<line x1="315.2" y1="241" x2="315.2" y2="243.2" stroke="#8a8a8a" stroke-width="0.6"/>
<text x="362.7" y="254.1" font-size="6" text-anchor="middle" font-weight="normal" fill="#1a1a1a" font-family='"Liberation Sans", sans-serif' stroke="#1a1a1a" stroke-width="0.25">50</text>
<line x1="362.7" y1="241" x2="362.7" y2="243.2" stroke="#8a8a8a" stroke-width="0.6"/>
<text x="410.3" y="254.1" font-size="6" text-anchor="middle" font-weight="normal" fill="#1a1a1a" font-family='"Liberation Sans", sans-serif' stroke="#1a1a1a" stroke-width="0.25">60</text>
<line x1="410.3" y1="241" x2="410.3" y2="243.2" stroke="#8a8a8a" stroke-width="0.6"/>
<text x="346.6" y="266.3" font-size="6.6" text-anchor="middle" font-weight="bold" fill="#1a1a1a" font-family='"Liberation Sans", sans-serif' stroke="#1a1a1a" stroke-width="0.25">Time (S)</text>
<line x1="431.8" y1="171.7" x2="442.2" y2="171.7" stroke="#a6c468" stroke-width="1"/>
<text x="442.8" y="173.3" font-size="4.3" text-anchor="start" font-weight="normal" fill="#444" font-family='"Liberation Sans", sans-serif' stroke="#1a1a1a" stroke-width="0.25">GP-20TPU</text>
<line x1="431.8" y1="180.7" x2="442.2" y2="180.7" stroke="#8c70b4" stroke-width="1"/>
<text x="442.8" y="182.3" font-size="4.3" text-anchor="start" font-weight="normal" fill="#444" font-family='"Liberation Sans", sans-serif' stroke="#1a1a1a" stroke-width="0.25">GP-10TPU</text>
<line x1="431.8" y1="191.7" x2="442.2" y2="191.7" stroke="#d2605e" stroke-width="1"/>
<text x="442.8" y="193.3" font-size="4.3" text-anchor="start" font-weight="normal" fill="#444" font-family='"Liberation Sans", sans-serif' stroke="#1a1a1a" stroke-width="0.25">GP</text>
<line x1="272.6" y1="13.4" x2="272.6" y2="240.5" stroke="#151515" stroke-width="1.3" stroke-dasharray="4.5,2.9"/>
<line x1="287.4" y1="13.4" x2="287.4" y2="240.5" stroke="#151515" stroke-width="1.3" stroke-dasharray="4.5,2.9"/>
<line x1="346.6" y1="13.4" x2="346.6" y2="240.5" stroke="#151515" stroke-width="1.3" stroke-dasharray="4.5,2.9"/>
<line x1="361.4" y1="13.4" x2="361.4" y2="240.5" stroke="#151515" stroke-width="1.3" stroke-dasharray="4.5,2.9"/>
<rect x="33.9" y="294.9" width="149.4" height="84.6" fill="#fff" stroke="#8a8a8a" stroke-width="0.8"/>
<polyline points="36.80,379.50 43.91,309.00 51.01,379.50 58.11,309.00 65.22,379.50 72.33,309.00 79.43,379.50 86.53,309.00 93.64,379.50 100.75,309.00 107.85,379.50 114.95,309.00 122.06,379.50 129.17,309.00 136.27,379.50 143.38,309.00 150.48,379.50 157.59,309.00 164.69,379.50 171.80,309.00 178.90,379.50" fill="none" stroke="#fb2206" stroke-width="2.0" stroke-linejoin="round" stroke-linejoin="miter"/>
<text x="27.1" y="381.6" font-size="6" text-anchor="end" font-weight="normal" fill="#1a1a1a" font-family='"Liberation Sans", sans-serif' stroke="#1a1a1a" stroke-width="0.25">0</text>
<line x1="31.5" y1="379.5" x2="33.9" y2="379.5" stroke="#8a8a8a" stroke-width="0.6"/>
<text x="27.1" y="367.5" font-size="6" text-anchor="end" font-weight="normal" fill="#1a1a1a" font-family='"Liberation Sans", sans-serif' stroke="#1a1a1a" stroke-width="0.25">5</text>
<line x1="31.5" y1="365.4" x2="33.9" y2="365.4" stroke="#8a8a8a" stroke-width="0.6"/>
<text x="27.1" y="353.4" font-size="6" text-anchor="end" font-weight="normal" fill="#1a1a1a" font-family='"Liberation Sans", sans-serif' stroke="#1a1a1a" stroke-width="0.25">10</text>
<line x1="31.5" y1="351.3" x2="33.9" y2="351.3" stroke="#8a8a8a" stroke-width="0.6"/>
<text x="27.1" y="339.3" font-size="6" text-anchor="end" font-weight="normal" fill="#1a1a1a" font-family='"Liberation Sans", sans-serif' stroke="#1a1a1a" stroke-width="0.25">15</text>
<line x1="31.5" y1="337.2" x2="33.9" y2="337.2" stroke="#8a8a8a" stroke-width="0.6"/>
<text x="27.1" y="325.2" font-size="6" text-anchor="end" font-weight="normal" fill="#1a1a1a" font-family='"Liberation Sans", sans-serif' stroke="#1a1a1a" stroke-width="0.25">20</text>
<line x1="31.5" y1="323.1" x2="33.9" y2="323.1" stroke="#8a8a8a" stroke-width="0.6"/>
<text x="27.1" y="311.1" font-size="6" text-anchor="end" font-weight="normal" fill="#1a1a1a" font-family='"Liberation Sans", sans-serif' stroke="#1a1a1a" stroke-width="0.25">25</text>
<line x1="31.5" y1="309.0" x2="33.9" y2="309.0" stroke="#8a8a8a" stroke-width="0.6"/>
<text x="27.1" y="297.0" font-size="6" text-anchor="end" font-weight="normal" fill="#1a1a1a" font-family='"Liberation Sans", sans-serif' stroke="#1a1a1a" stroke-width="0.25">30</text>
<line x1="31.5" y1="294.9" x2="33.9" y2="294.9" stroke="#8a8a8a" stroke-width="0.6"/>
<text transform="translate(16.9,337.3) rotate(-90)" font-size="6.4" text-anchor="middle" font-weight="bold" fill="#222" font-family='"Liberation Sans", sans-serif' stroke="#222" stroke-width="0.25" >Strain (%)</text>
<rect x="35.2" y="391.6" width="148.1" height="110.5" fill="#fff" stroke="#8a8a8a" stroke-width="0.8"/>
<polyline points="36.80,495.65 37.27,484.29 37.75,473.94 38.22,464.57 38.69,456.17 39.17,448.70 39.64,442.15 40.12,436.47 40.59,431.65 41.06,427.65 41.54,424.42 42.01,421.94 42.48,420.15 42.96,417.63 43.43,415.67 43.91,414.16 44.38,415.67 44.85,417.63 45.33,420.15 45.80,421.94 46.27,424.42 46.75,427.65 47.22,431.65 47.69,436.47 48.17,442.15 48.64,448.70 49.12,456.17 49.59,464.57 50.06,473.94 50.54,484.29 51.01,495.65 51.48,484.36 51.96,474.06 52.43,464.75 52.90,456.39 53.38,448.97 53.85,442.45 54.33,436.81 54.80,432.01 55.27,428.03 55.75,424.82 56.22,422.35 56.69,420.57 57.17,418.07 57.64,416.12 58.11,414.62 58.59,416.12 59.06,418.07 59.54,420.57 60.01,422.35 60.48,424.82 60.96,428.03 61.43,432.01 61.90,436.81 62.38,442.45 62.85,448.97 63.33,456.39 63.80,464.75 64.27,474.06 64.75,484.36 65.22,495.65 65.69,484.42 66.17,474.19 66.64,464.93 67.11,456.62 67.59,449.23 68.06,442.75 68.54,437.14 69.01,432.37 69.48,428.41 69.96,425.23 70.43,422.77 70.90,421.00 71.38,418.51 71.85,416.58 72.33,415.08 72.80,416.58 73.27,418.51 73.75,421.00 74.22,422.77 74.69,425.23 75.17,428.41 75.64,432.37 76.11,437.14 76.59,442.75 77.06,449.23 77.54,456.62 78.01,464.93 78.48,474.19 78.96,484.42 79.43,495.65 79.90,484.49 80.38,474.31 80.85,465.10 81.32,456.84 81.80,449.50 82.27,443.05 82.75,437.47 83.22,432.73 83.69,428.80 84.17,425.63 84.64,423.19 85.11,421.43 85.59,418.95 86.06,417.03 86.53,415.54 87.01,417.03 87.48,418.95 87.96,421.43 88.43,423.19 88.90,425.63 89.38,428.80 89.85,432.73 90.32,437.47 90.80,443.05 91.27,449.50 91.75,456.84 92.22,465.10 92.69,474.31 93.17,484.49 93.64,495.65 94.11,484.42 94.59,474.19 95.06,464.93 95.53,456.62 96.01,449.23 96.48,442.75 96.96,437.14 97.43,432.37 97.90,428.41 98.38,425.23 98.85,422.77 99.32,421.00 99.80,418.51 100.27,416.58 100.75,415.08 101.22,416.58 101.69,418.51 102.17,421.00 102.64,422.77 103.11,425.23 103.59,428.41 104.06,432.37 104.53,437.14 105.01,442.75 105.48,449.23 105.96,456.62 106.43,464.93 106.90,474.19 107.38,484.42 107.85,495.65 108.32,484.36 108.80,474.06 109.27,464.75 109.74,456.39 110.22,448.97 110.69,442.45 111.17,436.81 111.64,432.01 112.11,428.03 112.59,424.82 113.06,422.35 113.53,420.57 114.01,418.07 114.48,416.12 114.95,414.62 115.43,416.12 115.90,418.07 116.38,420.57 116.85,422.35 117.32,424.82 117.80,428.03 118.27,432.01 118.74,436.81 119.22,442.45 119.69,448.97 120.17,456.39 120.64,464.75 121.11,474.06 121.59,484.36 122.06,495.65 122.53,484.74 123.01,474.80 123.48,465.80 123.95,457.73 124.43,450.56 124.90,444.26 125.38,438.81 125.85,434.18 126.32,430.33 126.80,427.24 127.27,424.85 127.74,423.13 128.22,420.71 128.69,418.83 129.17,417.38 129.64,418.83 130.11,420.71 130.59,423.13 131.06,424.85 131.53,427.24 132.01,430.33 132.48,434.18 132.95,438.81 133.43,444.26 133.90,450.56 134.38,457.73 134.85,465.80 135.32,474.80 135.80,484.74 136.27,495.65 136.74,484.74 137.22,474.80 137.69,465.80 138.16,457.73 138.64,450.56 139.11,444.26 139.59,438.81 140.06,434.18 140.53,430.33 141.01,427.24 141.48,424.85 141.95,423.13 142.43,420.71 142.90,418.83 143.38,417.38 143.85,418.83 144.32,420.71 144.80,423.13 145.27,424.85 145.74,427.24 146.22,430.33 146.69,434.18 147.16,438.81 147.64,444.26 148.11,450.56 148.59,457.73 149.06,465.80 149.53,474.80 150.01,484.74 150.48,495.65 150.95,484.68 151.43,474.68 151.90,465.63 152.37,457.51 152.85,450.29 153.32,443.96 153.80,438.48 154.27,433.82 154.74,429.95 155.22,426.84 155.69,424.44 156.16,422.71 156.64,420.27 157.11,418.38 157.59,416.92 158.06,418.38 158.53,420.27 159.01,422.71 159.48,424.44 159.95,426.84 160.43,429.95 160.90,433.82 161.37,438.48 161.85,443.96 162.32,450.29 162.80,457.51 163.27,465.63 163.74,474.68 164.22,484.68 164.69,495.65 165.16,484.62 165.64,474.56 166.11,465.45 166.58,457.29 167.06,450.03 167.53,443.66 168.01,438.14 168.48,433.46 168.95,429.57 169.43,426.43 169.90,424.02 170.37,422.28 170.85,419.83 171.32,417.93 171.80,416.46 172.27,417.93 172.74,419.83 173.22,422.28 173.69,424.02 174.16,426.43 174.64,429.57 175.11,433.46 175.58,438.14 176.06,443.66 176.53,450.03 177.01,457.29 177.48,465.45 177.95,474.56 178.43,484.62 178.90,495.65" fill="none" stroke="#8c70b4" stroke-width="0.9" stroke-linejoin="round" />
<polyline points="36.80,495.65 37.27,487.02 37.75,481.24 38.22,476.56 38.69,472.66 39.17,469.38 39.64,466.65 40.12,464.38 40.59,462.53 41.06,461.06 41.54,459.92 42.01,459.08 42.48,457.49 42.96,455.77 43.43,454.24 43.91,452.84 44.38,454.24 44.85,455.77 45.33,457.49 45.80,459.08 46.27,459.92 46.75,461.06 47.22,462.53 47.69,464.38 48.17,466.65 48.64,469.38 49.12,472.66 49.59,476.56 50.06,481.24 50.54,487.02 51.01,495.65 51.48,487.02 51.96,481.24 52.43,476.56 52.90,472.66 53.38,469.38 53.85,466.65 54.33,464.38 54.80,462.53 55.27,461.06 55.75,459.92 56.22,459.08 56.69,457.49 57.17,455.77 57.64,454.24 58.11,452.84 58.59,454.24 59.06,455.77 59.54,457.49 60.01,459.08 60.48,459.92 60.96,461.06 61.43,462.53 61.90,464.38 62.38,466.65 62.85,469.38 63.33,472.66 63.80,476.56 64.27,481.24 64.75,487.02 65.22,495.65 65.69,487.02 66.17,481.24 66.64,476.56 67.11,472.66 67.59,469.38 68.06,466.65 68.54,464.38 69.01,462.53 69.48,461.06 69.96,459.92 70.43,459.08 70.90,457.49 71.38,455.77 71.85,454.24 72.33,452.84 72.80,454.24 73.27,455.77 73.75,457.49 74.22,459.08 74.69,459.92 75.17,461.06 75.64,462.53 76.11,464.38 76.59,466.65 77.06,469.38 77.54,472.66 78.01,476.56 78.48,481.24 78.96,487.02 79.43,495.65 79.90,487.02 80.38,481.24 80.85,476.56 81.32,472.66 81.80,469.38 82.27,466.65 82.75,464.38 83.22,462.53 83.69,461.06 84.17,459.92 84.64,459.08 85.11,457.49 85.59,455.77 86.06,454.24 86.53,452.84 87.01,454.24 87.48,455.77 87.96,457.49 88.43,459.08 88.90,459.92 89.38,461.06 89.85,462.53 90.32,464.38 90.80,466.65 91.27,469.38 91.75,472.66 92.22,476.56 92.69,481.24 93.17,487.02 93.64,495.65 94.11,487.02 94.59,481.24 95.06,476.56 95.53,472.66 96.01,469.38 96.48,466.65 96.96,464.38 97.43,462.53 97.90,461.06 98.38,459.92 98.85,459.08 99.32,457.49 99.80,455.77 100.27,454.24 100.75,452.84 101.22,454.24 101.69,455.77 102.17,457.49 102.64,459.08 103.11,459.92 103.59,461.06 104.06,462.53 104.53,464.38 105.01,466.65 105.48,469.38 105.96,472.66 106.43,476.56 106.90,481.24 107.38,487.02 107.85,495.65 108.32,487.02 108.80,481.24 109.27,476.56 109.74,472.66 110.22,469.38 110.69,466.65 111.17,464.38 111.64,462.53 112.11,461.06 112.59,459.92 113.06,459.08 113.53,457.49 114.01,455.77 114.48,454.24 114.95,452.84 115.43,454.24 115.90,455.77 116.38,457.49 116.85,459.08 117.32,459.92 117.80,461.06 118.27,462.53 118.74,464.38 119.22,466.65 119.69,469.38 120.17,472.66 120.64,476.56 121.11,481.24 121.59,487.02 122.06,495.65 122.53,487.02 123.01,481.24 123.48,476.56 123.95,472.66 124.43,469.38 124.90,466.65 125.38,464.38 125.85,462.53 126.32,461.06 126.80,459.92 127.27,459.08 127.74,457.49 128.22,455.77 128.69,454.24 129.17,452.84 129.64,454.24 130.11,455.77 130.59,457.49 131.06,459.08 131.53,459.92 132.01,461.06 132.48,462.53 132.95,464.38 133.43,466.65 133.90,469.38 134.38,472.66 134.85,476.56 135.32,481.24 135.80,487.02 136.27,495.65 136.74,487.02 137.22,481.24 137.69,476.56 138.16,472.66 138.64,469.38 139.11,466.65 139.59,464.38 140.06,462.53 140.53,461.06 141.01,459.92 141.48,459.08 141.95,457.49 142.43,455.77 142.90,454.24 143.38,452.84 143.85,454.24 144.32,455.77 144.80,457.49 145.27,459.08 145.74,459.92 146.22,461.06 146.69,462.53 147.16,464.38 147.64,466.65 148.11,469.38 148.59,472.66 149.06,476.56 149.53,481.24 150.01,487.02 150.48,495.65 150.95,487.02 151.43,481.24 151.90,476.56 152.37,472.66 152.85,469.38 153.32,466.65 153.80,464.38 154.27,462.53 154.74,461.06 155.22,459.92 155.69,459.08 156.16,457.49 156.64,455.77 157.11,454.24 157.59,452.84 158.06,454.24 158.53,455.77 159.01,457.49 159.48,459.08 159.95,459.92 160.43,461.06 160.90,462.53 161.37,464.38 161.85,466.65 162.32,469.38 162.80,472.66 163.27,476.56 163.74,481.24 164.22,487.02 164.69,495.65 165.16,487.02 165.64,481.24 166.11,476.56 166.58,472.66 167.06,469.38 167.53,466.65 168.01,464.38 168.48,462.53 168.95,461.06 169.43,459.92 169.90,459.08 170.37,457.49 170.85,455.77 171.32,454.24 171.80,452.84 172.27,454.24 172.74,455.77 173.22,457.49 173.69,459.08 174.16,459.92 174.64,461.06 175.11,462.53 175.58,464.38 176.06,466.65 176.53,469.38 177.01,472.66 177.48,476.56 177.95,481.24 178.43,487.02 178.90,495.65" fill="none" stroke="#a6c468" stroke-width="0.9" stroke-linejoin="round" />
<polyline points="36.80,495.65 37.27,487.43 37.75,481.92 38.22,477.46 38.69,473.74 39.17,470.62 39.64,468.01 40.12,465.85 40.59,464.08 41.06,462.68 41.54,461.60 42.01,460.80 42.48,460.26 42.96,459.93 43.43,459.77 43.91,459.74 44.38,459.77 44.85,459.93 45.33,460.26 45.80,460.80 46.27,461.60 46.75,462.68 47.22,464.08 47.69,465.85 48.17,468.01 48.64,470.62 49.12,473.74 49.59,477.46 50.06,481.92 50.54,487.43 51.01,495.65 51.48,487.43 51.96,481.92 52.43,477.46 52.90,473.74 53.38,470.62 53.85,468.01 54.33,465.85 54.80,464.08 55.27,462.68 55.75,461.60 56.22,460.80 56.69,460.26 57.17,459.93 57.64,459.77 58.11,459.74 58.59,459.77 59.06,459.93 59.54,460.26 60.01,460.80 60.48,461.60 60.96,462.68 61.43,464.08 61.90,465.85 62.38,468.01 62.85,470.62 63.33,473.74 63.80,477.46 64.27,481.92 64.75,487.43 65.22,495.65 65.69,487.43 66.17,481.92 66.64,477.46 67.11,473.74 67.59,470.62 68.06,468.01 68.54,465.85 69.01,464.08 69.48,462.68 69.96,461.60 70.43,460.80 70.90,460.26 71.38,459.93 71.85,459.77 72.33,459.74 72.80,459.77 73.27,459.93 73.75,460.26 74.22,460.80 74.69,461.60 75.17,462.68 75.64,464.08 76.11,465.85 76.59,468.01 77.06,470.62 77.54,473.74 78.01,477.46 78.48,481.92 78.96,487.43 79.43,495.65 79.90,487.43 80.38,481.92 80.85,477.46 81.32,473.74 81.80,470.62 82.27,468.01 82.75,465.85 83.22,464.08 83.69,462.68 84.17,461.60 84.64,460.80 85.11,460.26 85.59,459.93 86.06,459.77 86.53,459.74 87.01,459.77 87.48,459.93 87.96,460.26 88.43,460.80 88.90,461.60 89.38,462.68 89.85,464.08 90.32,465.85 90.80,468.01 91.27,470.62 91.75,473.74 92.22,477.46 92.69,481.92 93.17,487.43 93.64,495.65 94.11,487.43 94.59,481.92 95.06,477.46 95.53,473.74 96.01,470.62 96.48,468.01 96.96,465.85 97.43,464.08 97.90,462.68 98.38,461.60 98.85,460.80 99.32,460.26 99.80,459.93 100.27,459.77 100.75,459.74 101.22,459.77 101.69,459.93 102.17,460.26 102.64,460.80 103.11,461.60 103.59,462.68 104.06,464.08 104.53,465.85 105.01,468.01 105.48,470.62 105.96,473.74 106.43,477.46 106.90,481.92 107.38,487.43 107.85,495.65 108.32,487.43 108.80,481.92 109.27,477.46 109.74,473.74 110.22,470.62 110.69,468.01 111.17,465.85 111.64,464.08 112.11,462.68 112.59,461.60 113.06,460.80 113.53,460.26 114.01,459.93 114.48,459.77 114.95,459.74 115.43,459.77 115.90,459.93 116.38,460.26 116.85,460.80 117.32,461.60 117.80,462.68 118.27,464.08 118.74,465.85 119.22,468.01 119.69,470.62 120.17,473.74 120.64,477.46 121.11,481.92 121.59,487.43 122.06,495.65 122.53,487.43 123.01,481.92 123.48,477.46 123.95,473.74 124.43,470.62 124.90,468.01 125.38,465.85 125.85,464.08 126.32,462.68 126.80,461.60 127.27,460.80 127.74,460.26 128.22,459.93 128.69,459.77 129.17,459.74 129.64,459.77 130.11,459.93 130.59,460.26 131.06,460.80 131.53,461.60 132.01,462.68 132.48,464.08 132.95,465.85 133.43,468.01 133.90,470.62 134.38,473.74 134.85,477.46 135.32,481.92 135.80,487.43 136.27,495.65 136.74,487.43 137.22,481.92 137.69,477.46 138.16,473.74 138.64,470.62 139.11,468.01 139.59,465.85 140.06,464.08 140.53,462.68 141.01,461.60 141.48,460.80 141.95,460.26 142.43,459.93 142.90,459.77 143.38,459.74 143.85,459.77 144.32,459.93 144.80,460.26 145.27,460.80 145.74,461.60 146.22,462.68 146.69,464.08 147.16,465.85 147.64,468.01 148.11,470.62 148.59,473.74 149.06,477.46 149.53,481.92 150.01,487.43 150.48,495.65 150.95,487.43 151.43,481.92 151.90,477.46 152.37,473.74 152.85,470.62 153.32,468.01 153.80,465.85 154.27,464.08 154.74,462.68 155.22,461.60 155.69,460.80 156.16,460.26 156.64,459.93 157.11,459.77 157.59,459.74 158.06,459.77 158.53,459.93 159.01,460.26 159.48,460.80 159.95,461.60 160.43,462.68 160.90,464.08 161.37,465.85 161.85,468.01 162.32,470.62 162.80,473.74 163.27,477.46 163.74,481.92 164.22,487.43 164.69,495.65 165.16,487.43 165.64,481.92 166.11,477.46 166.58,473.74 167.06,470.62 167.53,468.01 168.01,465.85 168.48,464.08 168.95,462.68 169.43,461.60 169.90,460.80 170.37,460.26 170.85,459.93 171.32,459.77 171.80,459.74 172.27,459.77 172.74,459.93 173.22,460.26 173.69,460.80 174.16,461.60 174.64,462.68 175.11,464.08 175.58,465.85 176.06,468.01 176.53,470.62 177.01,473.74 177.48,477.46 177.95,481.92 178.43,487.43 178.90,495.65" fill="none" stroke="#d2605e" stroke-width="0.9" stroke-linejoin="round" />
<text x="27.1" y="504.2" font-size="6" text-anchor="end" font-weight="normal" fill="#1a1a1a" font-family='"Liberation Sans", sans-serif' stroke="#1a1a1a" stroke-width="0.25">0</text>
<line x1="32.800000000000004" y1="502.1" x2="35.2" y2="502.1" stroke="#8a8a8a" stroke-width="0.6"/>
<text x="27.1" y="485.8" font-size="6" text-anchor="end" font-weight="normal" fill="#1a1a1a" font-family='"Liberation Sans", sans-serif' stroke="#1a1a1a" stroke-width="0.25">2</text>
<line x1="32.800000000000004" y1="483.7" x2="35.2" y2="483.7" stroke="#8a8a8a" stroke-width="0.6"/>
<text x="27.1" y="467.4" font-size="6" text-anchor="end" font-weight="normal" fill="#1a1a1a" font-family='"Liberation Sans", sans-serif' stroke="#1a1a1a" stroke-width="0.25">4</text>
<line x1="32.800000000000004" y1="465.3" x2="35.2" y2="465.3" stroke="#8a8a8a" stroke-width="0.6"/>
<text x="27.1" y="449.0" font-size="6" text-anchor="end" font-weight="normal" fill="#1a1a1a" font-family='"Liberation Sans", sans-serif' stroke="#1a1a1a" stroke-width="0.25">6</text>
<line x1="32.800000000000004" y1="446.9" x2="35.2" y2="446.9" stroke="#8a8a8a" stroke-width="0.6"/>
<text x="27.1" y="430.5" font-size="6" text-anchor="end" font-weight="normal" fill="#1a1a1a" font-family='"Liberation Sans", sans-serif' stroke="#1a1a1a" stroke-width="0.25">8</text>
<line x1="32.800000000000004" y1="428.4" x2="35.2" y2="428.4" stroke="#8a8a8a" stroke-width="0.6"/>
<text x="27.1" y="412.1" font-size="6" text-anchor="end" font-weight="normal" fill="#1a1a1a" font-family='"Liberation Sans", sans-serif' stroke="#1a1a1a" stroke-width="0.25">10</text>
<line x1="32.800000000000004" y1="410.0" x2="35.2" y2="410.0" stroke="#8a8a8a" stroke-width="0.6"/>
<text x="27.1" y="393.7" font-size="6" text-anchor="end" font-weight="normal" fill="#1a1a1a" font-family='"Liberation Sans", sans-serif' stroke="#1a1a1a" stroke-width="0.25">12</text>
<line x1="32.800000000000004" y1="391.6" x2="35.2" y2="391.6" stroke="#8a8a8a" stroke-width="0.6"/>
<text transform="translate(17.3,447.0) rotate(-90)" font-size="6.1" text-anchor="middle" font-weight="bold" fill="#222" font-family='"Liberation Sans", sans-serif' stroke="#222" stroke-width="0.25" font-style="italic">&#916;R/R (%)</text>
<text x="34.2" y="513.9" font-size="6" text-anchor="middle" font-weight="normal" fill="#1a1a1a" font-family='"Liberation Sans", sans-serif' stroke="#1a1a1a" stroke-width="0.25">78</text>
<line x1="35.0" y1="502.1" x2="35.0" y2="504.3" stroke="#8a8a8a" stroke-width="0.6"/>
<text x="71.2" y="513.9" font-size="6" text-anchor="middle" font-weight="normal" fill="#1a1a1a" font-family='"Liberation Sans", sans-serif' stroke="#1a1a1a" stroke-width="0.25">98</text>
<line x1="72.0" y1="502.1" x2="72.0" y2="504.3" stroke="#8a8a8a" stroke-width="0.6"/>
<text x="108.5" y="513.9" font-size="6" text-anchor="middle" font-weight="normal" fill="#1a1a1a" font-family='"Liberation Sans", sans-serif' stroke="#1a1a1a" stroke-width="0.25">118</text>
<line x1="109.3" y1="502.1" x2="109.3" y2="504.3" stroke="#8a8a8a" stroke-width="0.6"/>
<text x="146.0" y="513.9" font-size="6" text-anchor="middle" font-weight="normal" fill="#1a1a1a" font-family='"Liberation Sans", sans-serif' stroke="#1a1a1a" stroke-width="0.25">138</text>
<line x1="146.8" y1="502.1" x2="146.8" y2="504.3" stroke="#8a8a8a" stroke-width="0.6"/>
<text x="182.8" y="513.9" font-size="6" text-anchor="middle" font-weight="normal" fill="#1a1a1a" font-family='"Liberation Sans", sans-serif' stroke="#1a1a1a" stroke-width="0.25">158</text>
<line x1="183.60000000000002" y1="502.1" x2="183.60000000000002" y2="504.3" stroke="#8a8a8a" stroke-width="0.6"/>
<text x="108.7" y="525.5" font-size="6.2" text-anchor="middle" font-weight="bold" fill="#1a1a1a" font-family='"Liberation Sans", sans-serif' stroke="#1a1a1a" stroke-width="0.25">Time (S)</text>
<line x1="188.4" y1="436.6" x2="197.6" y2="436.6" stroke="#a6c468" stroke-width="1"/>
<text x="198.6" y="438.2" font-size="3.4" text-anchor="start" font-weight="normal" fill="#444" font-family='"Liberation Sans", sans-serif' stroke="#1a1a1a" stroke-width="0.25">GP-20TPU</text>
<line x1="188.4" y1="446.3" x2="197.6" y2="446.3" stroke="#8c70b4" stroke-width="1"/>
<text x="198.6" y="447.9" font-size="3.4" text-anchor="start" font-weight="normal" fill="#444" font-family='"Liberation Sans", sans-serif' stroke="#1a1a1a" stroke-width="0.25">GP-10TPU</text>
<line x1="188.4" y1="455.8" x2="197.6" y2="455.8" stroke="#d2605e" stroke-width="1"/>
<text x="198.6" y="457.4" font-size="3.4" text-anchor="start" font-weight="normal" fill="#444" font-family='"Liberation Sans", sans-serif' stroke="#1a1a1a" stroke-width="0.25">GP</text>
<line x1="36.8" y1="293.2" x2="36.8" y2="498.8" stroke="#151515" stroke-width="1.3" stroke-dasharray="4.5,2.9"/>
<line x1="51.0" y1="293.2" x2="51.0" y2="498.8" stroke="#151515" stroke-width="1.3" stroke-dasharray="4.5,2.9"/>
<line x1="107.9" y1="293.2" x2="107.9" y2="498.8" stroke="#151515" stroke-width="1.3" stroke-dasharray="4.5,2.9"/>
<line x1="122.1" y1="293.2" x2="122.1" y2="498.8" stroke="#151515" stroke-width="1.3" stroke-dasharray="4.5,2.9"/>
<rect x="268.7" y="293.6" width="154.6" height="85.4" fill="#fff" stroke="#8a8a8a" stroke-width="0.8"/>
<polyline points="270.50,379.00 277.88,307.83 285.27,379.00 292.65,307.83 300.04,379.00 307.43,307.83 314.81,379.00 322.19,307.83 329.58,379.00 336.97,307.83 344.35,379.00 351.74,307.83 359.12,379.00 366.50,307.83 373.89,379.00 381.27,307.83 388.66,379.00 396.05,307.83 403.43,379.00 410.81,307.83 418.20,379.00" fill="none" stroke="#fb2206" stroke-width="2.0" stroke-linejoin="round" stroke-linejoin="miter"/>
<text x="262.5" y="381.1" font-size="6" text-anchor="end" font-weight="normal" fill="#1a1a1a" font-family='"Liberation Sans", sans-serif' stroke="#1a1a1a" stroke-width="0.25">0</text>
<line x1="266.3" y1="379.0" x2="268.7" y2="379.0" stroke="#8a8a8a" stroke-width="0.6"/>
<text x="262.5" y="366.9" font-size="6" text-anchor="end" font-weight="normal" fill="#1a1a1a" font-family='"Liberation Sans", sans-serif' stroke="#1a1a1a" stroke-width="0.25">10</text>
<line x1="266.3" y1="364.8" x2="268.7" y2="364.8" stroke="#8a8a8a" stroke-width="0.6"/>
<text x="262.5" y="352.6" font-size="6" text-anchor="end" font-weight="normal" fill="#1a1a1a" font-family='"Liberation Sans", sans-serif' stroke="#1a1a1a" stroke-width="0.25">20</text>
<line x1="266.3" y1="350.5" x2="268.7" y2="350.5" stroke="#8a8a8a" stroke-width="0.6"/>
<text x="262.5" y="338.4" font-size="6" text-anchor="end" font-weight="normal" fill="#1a1a1a" font-family='"Liberation Sans", sans-serif' stroke="#1a1a1a" stroke-width="0.25">30</text>
<line x1="266.3" y1="336.3" x2="268.7" y2="336.3" stroke="#8a8a8a" stroke-width="0.6"/>
<text x="262.5" y="324.2" font-size="6" text-anchor="end" font-weight="normal" fill="#1a1a1a" font-family='"Liberation Sans", sans-serif' stroke="#1a1a1a" stroke-width="0.25">40</text>
<line x1="266.3" y1="322.1" x2="268.7" y2="322.1" stroke="#8a8a8a" stroke-width="0.6"/>
<text x="262.5" y="309.9" font-size="6" text-anchor="end" font-weight="normal" fill="#1a1a1a" font-family='"Liberation Sans", sans-serif' stroke="#1a1a1a" stroke-width="0.25">50</text>
<line x1="266.3" y1="307.8" x2="268.7" y2="307.8" stroke="#8a8a8a" stroke-width="0.6"/>
<text x="262.5" y="295.7" font-size="6" text-anchor="end" font-weight="normal" fill="#1a1a1a" font-family='"Liberation Sans", sans-serif' stroke="#1a1a1a" stroke-width="0.25">60</text>
<line x1="266.3" y1="293.6" x2="268.7" y2="293.6" stroke="#8a8a8a" stroke-width="0.6"/>
<text transform="translate(251.9,336.8) rotate(-90)" font-size="6.4" text-anchor="middle" font-weight="bold" fill="#222" font-family='"Liberation Sans", sans-serif' stroke="#222" stroke-width="0.25" >Strain (%)</text>
<rect x="269.2" y="392.3" width="154.1" height="111.9" fill="#fff" stroke="#8a8a8a" stroke-width="0.8"/>
<polyline points="270.50,487.41 270.99,462.93 271.48,448.60 271.98,438.52 272.47,431.32 272.96,426.23 273.45,422.70 273.95,420.33 274.44,418.81 274.93,417.90 275.42,416.70 275.92,413.70 276.41,410.84 276.90,408.06 277.39,405.31 277.88,402.56 278.38,405.31 278.87,408.06 279.36,410.84 279.85,413.70 280.35,416.70 280.84,417.90 281.33,418.81 281.82,420.33 282.32,422.70 282.81,426.23 283.30,431.32 283.79,438.52 284.29,448.60 284.78,462.93 285.27,487.41 285.76,463.20 286.25,449.03 286.75,439.06 287.24,431.94 287.73,426.90 288.22,423.41 288.72,421.07 289.21,419.57 289.70,418.66 290.19,417.48 290.69,414.51 291.18,411.68 291.67,408.93 292.16,406.21 292.65,403.49 293.15,406.21 293.64,408.93 294.13,411.68 294.62,414.51 295.12,417.48 295.61,418.66 296.10,419.57 296.59,421.07 297.09,423.41 297.58,426.90 298.07,431.94 298.56,439.06 299.06,449.03 299.55,463.20 300.04,487.41 300.53,463.20 301.02,449.03 301.52,439.06 302.01,431.94 302.50,426.90 302.99,423.41 303.49,421.07 303.98,419.57 304.47,418.66 304.96,417.48 305.46,414.51 305.95,411.68 306.44,408.93 306.93,406.21 307.43,403.49 307.92,406.21 308.41,408.93 308.90,411.68 309.39,414.51 309.89,417.48 310.38,418.66 310.87,419.57 311.36,421.07 311.86,423.41 312.35,426.90 312.84,431.94 313.33,439.06 313.83,449.03 314.32,463.20 314.81,487.41 315.30,463.34 315.79,449.24 316.29,439.33 316.78,432.25 317.27,427.24 317.76,423.77 318.26,421.44 318.75,419.95 319.24,419.04 319.73,417.86 320.23,414.91 320.72,412.10 321.21,409.37 321.70,406.66 322.19,403.96 322.69,406.66 323.18,409.37 323.67,412.10 324.16,414.91 324.66,417.86 325.15,419.04 325.64,419.95 326.13,421.44 326.63,423.77 327.12,427.24 327.61,432.25 328.10,439.33 328.60,449.24 329.09,463.34 329.58,487.41 330.07,463.74 330.56,449.88 331.06,440.13 331.55,433.17 332.04,428.24 332.53,424.83 333.03,422.54 333.52,421.08 334.01,420.19 334.50,419.03 335.00,416.13 335.49,413.37 335.98,410.68 336.47,408.01 336.97,405.36 337.46,408.01 337.95,410.68 338.44,413.37 338.93,416.13 339.43,419.03 339.92,420.19 340.41,421.08 340.90,422.54 341.40,424.83 341.89,428.24 342.38,433.17 342.87,440.13 343.37,449.88 343.86,463.74 344.35,487.41 344.84,463.47 345.33,449.46 345.83,439.60 346.32,432.56 346.81,427.57 347.30,424.12 347.80,421.81 348.29,420.32 348.78,419.42 349.27,418.25 349.77,415.32 350.26,412.52 350.75,409.80 351.24,407.11 351.74,404.42 352.23,407.11 352.72,409.80 353.21,412.52 353.70,415.32 354.20,418.25 354.69,419.42 355.18,420.32 355.67,421.81 356.17,424.12 356.66,427.57 357.15,432.56 357.64,439.60 358.14,449.46 358.63,463.47 359.12,487.41 359.61,463.47 360.10,449.46 360.60,439.60 361.09,432.56 361.58,427.57 362.07,424.12 362.57,421.81 363.06,420.32 363.55,419.42 364.04,418.25 364.54,415.32 365.03,412.52 365.52,409.80 366.01,407.11 366.50,404.42 367.00,407.11 367.49,409.80 367.98,412.52 368.47,415.32 368.97,418.25 369.46,419.42 369.95,420.32 370.44,421.81 370.94,424.12 371.43,427.57 371.92,432.56 372.41,439.60 372.91,449.46 373.40,463.47 373.89,487.41 374.38,463.61 374.87,449.67 375.37,439.87 375.86,432.86 376.35,427.91 376.84,424.48 377.34,422.18 377.83,420.70 378.32,419.81 378.81,418.64 379.31,415.72 379.80,412.94 380.29,410.24 380.78,407.56 381.27,404.89 381.77,407.56 382.26,410.24 382.75,412.94 383.24,415.72 383.74,418.64 384.23,419.81 384.72,420.70 385.21,422.18 385.71,424.48 386.20,427.91 386.69,432.86 387.18,439.87 387.68,449.67 388.17,463.61 388.66,487.41 389.15,463.61 389.64,449.67 390.14,439.87 390.63,432.86 391.12,427.91 391.61,424.48 392.11,422.18 392.60,420.70 393.09,419.81 393.58,418.64 394.08,415.72 394.57,412.94 395.06,410.24 395.55,407.56 396.05,404.89 396.54,407.56 397.03,410.24 397.52,412.94 398.01,415.72 398.51,418.64 399.00,419.81 399.49,420.70 399.98,422.18 400.48,424.48 400.97,427.91 401.46,432.86 401.95,439.87 402.45,449.67 402.94,463.61 403.43,487.41 403.92,463.47 404.41,449.46 404.91,439.60 405.40,432.56 405.89,427.57 406.38,424.12 406.88,421.81 407.37,420.32 407.86,419.42 408.35,418.25 408.85,415.32 409.34,412.52 409.83,409.80 410.32,407.11 410.81,404.42 411.31,407.11 411.80,409.80 412.29,412.52 412.78,415.32 413.28,418.25 413.77,419.42 414.26,420.32 414.75,421.81 415.25,424.12 415.74,427.57 416.23,432.56 416.72,439.60 417.22,449.46 417.71,463.47 418.20,487.41" fill="none" stroke="#8c70b4" stroke-width="0.9" stroke-linejoin="round" />
<polyline points="270.50,486.48 270.99,470.02 271.48,460.38 271.98,453.60 272.47,448.76 272.96,445.33 273.45,442.96 273.95,441.36 274.44,440.34 274.93,439.73 275.42,438.82 275.92,436.39 276.41,434.06 276.90,431.78 277.39,429.52 277.88,427.27 278.38,429.52 278.87,431.78 279.36,434.06 279.85,436.39 280.35,438.82 280.84,439.73 281.33,440.34 281.82,441.36 282.32,442.96 282.81,445.33 283.30,448.76 283.79,453.60 284.29,460.38 284.78,470.02 285.27,486.48 285.76,470.92 286.25,461.82 286.75,455.41 287.24,450.84 287.73,447.60 288.22,445.35 288.72,443.85 289.21,442.89 289.70,442.30 290.19,441.45 290.69,439.15 291.18,436.95 291.67,434.80 292.16,432.66 292.65,430.53 293.15,432.66 293.64,434.80 294.13,436.95 294.62,439.15 295.12,441.45 295.61,442.30 296.10,442.89 296.59,443.85 297.09,445.35 297.58,447.60 298.07,450.84 298.56,455.41 299.06,461.82 299.55,470.92 300.04,486.48 300.53,470.92 301.02,461.82 301.52,455.41 302.01,450.84 302.50,447.60 302.99,445.35 303.49,443.85 303.98,442.89 304.47,442.30 304.96,441.45 305.46,439.15 305.95,436.95 306.44,434.80 306.93,432.66 307.43,430.53 307.92,432.66 308.41,434.80 308.90,436.95 309.39,439.15 309.89,441.45 310.38,442.30 310.87,442.89 311.36,443.85 311.86,445.35 312.35,447.60 312.84,450.84 313.33,455.41 313.83,461.82 314.32,470.92 314.81,486.48 315.30,470.92 315.79,461.82 316.29,455.41 316.78,450.84 317.27,447.60 317.76,445.35 318.26,443.85 318.75,442.89 319.24,442.30 319.73,441.45 320.23,439.15 320.72,436.95 321.21,434.80 321.70,432.66 322.19,430.53 322.69,432.66 323.18,434.80 323.67,436.95 324.16,439.15 324.66,441.45 325.15,442.30 325.64,442.89 326.13,443.85 326.63,445.35 327.12,447.60 327.61,450.84 328.10,455.41 328.60,461.82 329.09,470.92 329.58,486.48 330.07,470.79 330.56,461.61 331.06,455.15 331.55,450.54 332.04,447.27 332.53,445.01 333.03,443.50 333.52,442.52 334.01,441.94 334.50,441.07 335.00,438.76 335.49,436.54 335.98,434.37 336.47,432.22 336.97,430.07 337.46,432.22 337.95,434.37 338.44,436.54 338.93,438.76 339.43,441.07 339.92,441.94 340.41,442.52 340.90,443.50 341.40,445.01 341.89,447.27 342.38,450.54 342.87,455.15 343.37,461.61 343.86,470.79 344.35,486.48 344.84,470.92 345.33,461.82 345.83,455.41 346.32,450.84 346.81,447.60 347.30,445.35 347.80,443.85 348.29,442.89 348.78,442.30 349.27,441.45 349.77,439.15 350.26,436.95 350.75,434.80 351.24,432.66 351.74,430.53 352.23,432.66 352.72,434.80 353.21,436.95 353.70,439.15 354.20,441.45 354.69,442.30 355.18,442.89 355.67,443.85 356.17,445.35 356.66,447.60 357.15,450.84 357.64,455.41 358.14,461.82 358.63,470.92 359.12,486.48 359.61,470.92 360.10,461.82 360.60,455.41 361.09,450.84 361.58,447.60 362.07,445.35 362.57,443.85 363.06,442.89 363.55,442.30 364.04,441.45 364.54,439.15 365.03,436.95 365.52,434.80 366.01,432.66 366.50,430.53 367.00,432.66 367.49,434.80 367.98,436.95 368.47,439.15 368.97,441.45 369.46,442.30 369.95,442.89 370.44,443.85 370.94,445.35 371.43,447.60 371.92,450.84 372.41,455.41 372.91,461.82 373.40,470.92 373.89,486.48 374.38,470.92 374.87,461.82 375.37,455.41 375.86,450.84 376.35,447.60 376.84,445.35 377.34,443.85 377.83,442.89 378.32,442.30 378.81,441.45 379.31,439.15 379.80,436.95 380.29,434.80 380.78,432.66 381.27,430.53 381.77,432.66 382.26,434.80 382.75,436.95 383.24,439.15 383.74,441.45 384.23,442.30 384.72,442.89 385.21,443.85 385.71,445.35 386.20,447.60 386.69,450.84 387.18,455.41 387.68,461.82 388.17,470.92 388.66,486.48 389.15,470.92 389.64,461.82 390.14,455.41 390.63,450.84 391.12,447.60 391.61,445.35 392.11,443.85 392.60,442.89 393.09,442.30 393.58,441.45 394.08,439.15 394.57,436.95 395.06,434.80 395.55,432.66 396.05,430.53 396.54,432.66 397.03,434.80 397.52,436.95 398.01,439.15 398.51,441.45 399.00,442.30 399.49,442.89 399.98,443.85 400.48,445.35 400.97,447.60 401.46,450.84 401.95,455.41 402.45,461.82 402.94,470.92 403.43,486.48 403.92,470.92 404.41,461.82 404.91,455.41 405.40,450.84 405.89,447.60 406.38,445.35 406.88,443.85 407.37,442.89 407.86,442.30 408.35,441.45 408.85,439.15 409.34,436.95 409.83,434.80 410.32,432.66 410.81,430.53 411.31,432.66 411.80,434.80 412.29,436.95 412.78,439.15 413.28,441.45 413.77,442.30 414.26,442.89 414.75,443.85 415.25,445.35 415.74,447.60 416.23,450.84 416.72,455.41 417.22,461.82 417.71,470.92 418.20,486.48" fill="none" stroke="#a6c468" stroke-width="0.9" stroke-linejoin="round" />
<polyline points="270.50,486.48 270.99,472.79 271.48,464.78 271.98,459.14 272.47,455.11 272.96,452.26 273.45,450.29 273.95,448.97 274.44,448.12 274.93,447.60 275.42,447.32 275.92,446.99 276.41,446.57 276.90,446.19 277.39,445.82 277.88,445.45 278.38,445.82 278.87,446.19 279.36,446.57 279.85,446.99 280.35,447.32 280.84,447.60 281.33,448.12 281.82,448.97 282.32,450.29 282.81,452.26 283.30,455.11 283.79,459.14 284.29,464.78 284.78,472.79 285.27,486.48 285.76,472.79 286.25,464.78 286.75,459.14 287.24,455.11 287.73,452.26 288.22,450.29 288.72,448.97 289.21,448.12 289.70,447.60 290.19,447.32 290.69,446.99 291.18,446.57 291.67,446.19 292.16,445.82 292.65,445.45 293.15,445.82 293.64,446.19 294.13,446.57 294.62,446.99 295.12,447.32 295.61,447.60 296.10,448.12 296.59,448.97 297.09,450.29 297.58,452.26 298.07,455.11 298.56,459.14 299.06,464.78 299.55,472.79 300.04,486.48 300.53,472.79 301.02,464.78 301.52,459.14 302.01,455.11 302.50,452.26 302.99,450.29 303.49,448.97 303.98,448.12 304.47,447.60 304.96,447.32 305.46,446.99 305.95,446.57 306.44,446.19 306.93,445.82 307.43,445.45 307.92,445.82 308.41,446.19 308.90,446.57 309.39,446.99 309.89,447.32 310.38,447.60 310.87,448.12 311.36,448.97 311.86,450.29 312.35,452.26 312.84,455.11 313.33,459.14 313.83,464.78 314.32,472.79 314.81,486.48 315.30,472.79 315.79,464.78 316.29,459.14 316.78,455.11 317.27,452.26 317.76,450.29 318.26,448.97 318.75,448.12 319.24,447.60 319.73,447.32 320.23,446.99 320.72,446.57 321.21,446.19 321.70,445.82 322.19,445.45 322.69,445.82 323.18,446.19 323.67,446.57 324.16,446.99 324.66,447.32 325.15,447.60 325.64,448.12 326.13,448.97 326.63,450.29 327.12,452.26 327.61,455.11 328.10,459.14 328.60,464.78 329.09,472.79 329.58,486.48 330.07,472.79 330.56,464.78 331.06,459.14 331.55,455.11 332.04,452.26 332.53,450.29 333.03,448.97 333.52,448.12 334.01,447.60 334.50,447.32 335.00,446.99 335.49,446.57 335.98,446.19 336.47,445.82 336.97,445.45 337.46,445.82 337.95,446.19 338.44,446.57 338.93,446.99 339.43,447.32 339.92,447.60 340.41,448.12 340.90,448.97 341.40,450.29 341.89,452.26 342.38,455.11 342.87,459.14 343.37,464.78 343.86,472.79 344.35,486.48 344.84,472.79 345.33,464.78 345.83,459.14 346.32,455.11 346.81,452.26 347.30,450.29 347.80,448.97 348.29,448.12 348.78,447.60 349.27,447.32 349.77,446.99 350.26,446.57 350.75,446.19 351.24,445.82 351.74,445.45 352.23,445.82 352.72,446.19 353.21,446.57 353.70,446.99 354.20,447.32 354.69,447.60 355.18,448.12 355.67,448.97 356.17,450.29 356.66,452.26 357.15,455.11 357.64,459.14 358.14,464.78 358.63,472.79 359.12,486.48 359.61,472.79 360.10,464.78 360.60,459.14 361.09,455.11 361.58,452.26 362.07,450.29 362.57,448.97 363.06,448.12 363.55,447.60 364.04,447.32 364.54,446.99 365.03,446.57 365.52,446.19 366.01,445.82 366.50,445.45 367.00,445.82 367.49,446.19 367.98,446.57 368.47,446.99 368.97,447.32 369.46,447.60 369.95,448.12 370.44,448.97 370.94,450.29 371.43,452.26 371.92,455.11 372.41,459.14 372.91,464.78 373.40,472.79 373.89,486.48 374.38,472.79 374.87,464.78 375.37,459.14 375.86,455.11 376.35,452.26 376.84,450.29 377.34,448.97 377.83,448.12 378.32,447.60 378.81,447.32 379.31,446.99 379.80,446.57 380.29,446.19 380.78,445.82 381.27,445.45 381.77,445.82 382.26,446.19 382.75,446.57 383.24,446.99 383.74,447.32 384.23,447.60 384.72,448.12 385.21,448.97 385.71,450.29 386.20,452.26 386.69,455.11 387.18,459.14 387.68,464.78 388.17,472.79 388.66,486.48 389.15,472.79 389.64,464.78 390.14,459.14 390.63,455.11 391.12,452.26 391.61,450.29 392.11,448.97 392.60,448.12 393.09,447.60 393.58,447.32 394.08,446.99 394.57,446.57 395.06,446.19 395.55,445.82 396.05,445.45 396.54,445.82 397.03,446.19 397.52,446.57 398.01,446.99 398.51,447.32 399.00,447.60 399.49,448.12 399.98,448.97 400.48,450.29 400.97,452.26 401.46,455.11 401.95,459.14 402.45,464.78 402.94,472.79 403.43,486.48 403.92,472.79 404.41,464.78 404.91,459.14 405.40,455.11 405.89,452.26 406.38,450.29 406.88,448.97 407.37,448.12 407.86,447.60 408.35,447.32 408.85,446.99 409.34,446.57 409.83,446.19 410.32,445.82 410.81,445.45 411.31,445.82 411.80,446.19 412.29,446.57 412.78,446.99 413.28,447.32 413.77,447.60 414.26,448.12 414.75,448.97 415.25,450.29 415.74,452.26 416.23,455.11 416.72,459.14 417.22,464.78 417.71,472.79 418.20,486.48" fill="none" stroke="#d2605e" stroke-width="0.9" stroke-linejoin="round" />
<text x="262.4" y="506.3" font-size="6" text-anchor="end" font-weight="normal" fill="#1a1a1a" font-family='"Liberation Sans", sans-serif' stroke="#1a1a1a" stroke-width="0.25">0</text>
<line x1="266.8" y1="504.2" x2="269.2" y2="504.2" stroke="#8a8a8a" stroke-width="0.6"/>
<text x="262.4" y="487.7" font-size="6" text-anchor="end" font-weight="normal" fill="#1a1a1a" font-family='"Liberation Sans", sans-serif' stroke="#1a1a1a" stroke-width="0.25">2</text>
<line x1="266.8" y1="485.6" x2="269.2" y2="485.6" stroke="#8a8a8a" stroke-width="0.6"/>
<text x="262.4" y="469.0" font-size="6" text-anchor="end" font-weight="normal" fill="#1a1a1a" font-family='"Liberation Sans", sans-serif' stroke="#1a1a1a" stroke-width="0.25">4</text>
<line x1="266.8" y1="466.9" x2="269.2" y2="466.9" stroke="#8a8a8a" stroke-width="0.6"/>
<text x="262.4" y="450.4" font-size="6" text-anchor="end" font-weight="normal" fill="#1a1a1a" font-family='"Liberation Sans", sans-serif' stroke="#1a1a1a" stroke-width="0.25">6</text>
<line x1="266.8" y1="448.2" x2="269.2" y2="448.2" stroke="#8a8a8a" stroke-width="0.6"/>
<text x="262.4" y="431.7" font-size="6" text-anchor="end" font-weight="normal" fill="#1a1a1a" font-family='"Liberation Sans", sans-serif' stroke="#1a1a1a" stroke-width="0.25">8</text>
<line x1="266.8" y1="429.6" x2="269.2" y2="429.6" stroke="#8a8a8a" stroke-width="0.6"/>
<text x="262.4" y="413.1" font-size="6" text-anchor="end" font-weight="normal" fill="#1a1a1a" font-family='"Liberation Sans", sans-serif' stroke="#1a1a1a" stroke-width="0.25">10</text>
<line x1="266.8" y1="410.9" x2="269.2" y2="410.9" stroke="#8a8a8a" stroke-width="0.6"/>
<text x="262.4" y="394.4" font-size="6" text-anchor="end" font-weight="normal" fill="#1a1a1a" font-family='"Liberation Sans", sans-serif' stroke="#1a1a1a" stroke-width="0.25">12</text>
<line x1="266.8" y1="392.3" x2="269.2" y2="392.3" stroke="#8a8a8a" stroke-width="0.6"/>
<text transform="translate(251.2,448.8) rotate(-90)" font-size="6.1" text-anchor="middle" font-weight="bold" fill="#222" font-family='"Liberation Sans", sans-serif' stroke="#222" stroke-width="0.25" font-style="italic">&#916;R/R (%)</text>
<text x="269.5" y="515.1" font-size="6" text-anchor="middle" font-weight="normal" fill="#1a1a1a" font-family='"Liberation Sans", sans-serif' stroke="#1a1a1a" stroke-width="0.25">160</text>
<line x1="269.5" y1="504.2" x2="269.5" y2="506.4" stroke="#8a8a8a" stroke-width="0.6"/>
<text x="288.7" y="515.1" font-size="6" text-anchor="middle" font-weight="normal" fill="#1a1a1a" font-family='"Liberation Sans", sans-serif' stroke="#1a1a1a" stroke-width="0.25">180</text>
<line x1="288.7" y1="504.2" x2="288.7" y2="506.4" stroke="#8a8a8a" stroke-width="0.6"/>
<text x="307.9" y="515.1" font-size="6" text-anchor="middle" font-weight="normal" fill="#1a1a1a" font-family='"Liberation Sans", sans-serif' stroke="#1a1a1a" stroke-width="0.25">200</text>
<line x1="307.9" y1="504.2" x2="307.9" y2="506.4" stroke="#8a8a8a" stroke-width="0.6"/>
<text x="327.1" y="515.1" font-size="6" text-anchor="middle" font-weight="normal" fill="#1a1a1a" font-family='"Liberation Sans", sans-serif' stroke="#1a1a1a" stroke-width="0.25">220</text>
<line x1="327.1" y1="504.2" x2="327.1" y2="506.4" stroke="#8a8a8a" stroke-width="0.6"/>
<text x="346.2" y="515.1" font-size="6" text-anchor="middle" font-weight="normal" fill="#1a1a1a" font-family='"Liberation Sans", sans-serif' stroke="#1a1a1a" stroke-width="0.25">240</text>
<line x1="346.2" y1="504.2" x2="346.2" y2="506.4" stroke="#8a8a8a" stroke-width="0.6"/>
<text x="365.4" y="515.1" font-size="6" text-anchor="middle" font-weight="normal" fill="#1a1a1a" font-family='"Liberation Sans", sans-serif' stroke="#1a1a1a" stroke-width="0.25">260</text>
<line x1="365.4" y1="504.2" x2="365.4" y2="506.4" stroke="#8a8a8a" stroke-width="0.6"/>
<text x="384.5" y="515.1" font-size="6" text-anchor="middle" font-weight="normal" fill="#1a1a1a" font-family='"Liberation Sans", sans-serif' stroke="#1a1a1a" stroke-width="0.25">280</text>
<line x1="384.5" y1="504.2" x2="384.5" y2="506.4" stroke="#8a8a8a" stroke-width="0.6"/>
<text x="403.7" y="515.1" font-size="6" text-anchor="middle" font-weight="normal" fill="#1a1a1a" font-family='"Liberation Sans", sans-serif' stroke="#1a1a1a" stroke-width="0.25">300</text>
<line x1="403.7" y1="504.2" x2="403.7" y2="506.4" stroke="#8a8a8a" stroke-width="0.6"/>
<text x="422.8" y="515.1" font-size="6" text-anchor="middle" font-weight="normal" fill="#1a1a1a" font-family='"Liberation Sans", sans-serif' stroke="#1a1a1a" stroke-width="0.25">320</text>
<line x1="422.8" y1="504.2" x2="422.8" y2="506.4" stroke="#8a8a8a" stroke-width="0.6"/>
<text x="347.0" y="527.7" font-size="6.2" text-anchor="middle" font-weight="bold" fill="#1a1a1a" font-family='"Liberation Sans", sans-serif' stroke="#1a1a1a" stroke-width="0.25">Time (S)</text>
<line x1="428" y1="438.6" x2="437" y2="438.6" stroke="#a6c468" stroke-width="1"/>
<text x="437.6" y="440.2" font-size="4.1" text-anchor="start" font-weight="normal" fill="#444" font-family='"Liberation Sans", sans-serif' stroke="#1a1a1a" stroke-width="0.25">GP-20TPU</text>
<line x1="428" y1="447.9" x2="437" y2="447.9" stroke="#8c70b4" stroke-width="1"/>
<text x="437.6" y="449.5" font-size="4.1" text-anchor="start" font-weight="normal" fill="#444" font-family='"Liberation Sans", sans-serif' stroke="#1a1a1a" stroke-width="0.25">GP-10TPU</text>
<line x1="428" y1="457.1" x2="437" y2="457.1" stroke="#d2605e" stroke-width="1"/>
<text x="437.6" y="458.7" font-size="4.1" text-anchor="start" font-weight="normal" fill="#444" font-family='"Liberation Sans", sans-serif' stroke="#1a1a1a" stroke-width="0.25">GP</text>
<line x1="270.5" y1="292.5" x2="270.5" y2="501" stroke="#151515" stroke-width="1.3" stroke-dasharray="4.5,2.9"/>
<line x1="285.3" y1="292.5" x2="285.3" y2="501" stroke="#151515" stroke-width="1.3" stroke-dasharray="4.5,2.9"/>
<line x1="344.4" y1="292.5" x2="344.4" y2="501" stroke="#151515" stroke-width="1.3" stroke-dasharray="4.5,2.9"/>
<line x1="359.1" y1="292.5" x2="359.1" y2="501" stroke="#151515" stroke-width="1.3" stroke-dasharray="4.5,2.9"/>
</svg></body></html>
